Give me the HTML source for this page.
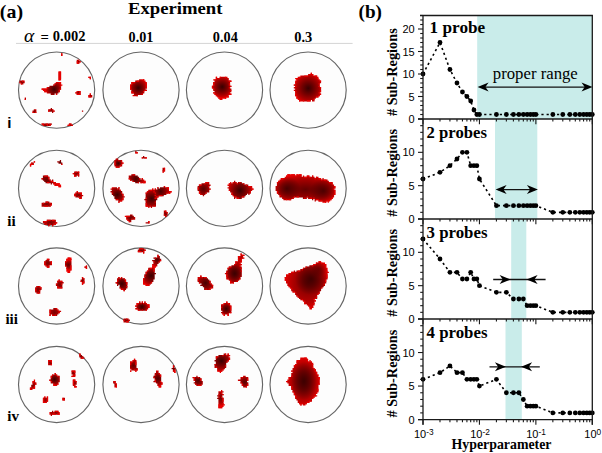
<!DOCTYPE html>
<html><head><meta charset="utf-8"><style>
html,body{margin:0;padding:0;background:#fff;}
svg{display:block;}
</style></head><body>
<svg width="602" height="453" viewBox="0 0 602 453">
<rect width="602" height="453" fill="#fff"/>
<defs><radialGradient id="b1" gradientUnits="userSpaceOnUse" cx="0" cy="0" r="1" gradientTransform="translate(54.20 89.30) scale(8.50 8.50)"><stop offset="0.00" stop-color="#380000"/><stop offset="0.20" stop-color="#540000"/><stop offset="0.45" stop-color="#780000"/><stop offset="0.60" stop-color="#900000"/><stop offset="0.75" stop-color="#a80000"/><stop offset="0.92" stop-color="#cc0000"/><stop offset="1.00" stop-color="#ee0000"/></radialGradient><radialGradient id="b2" gradientUnits="userSpaceOnUse" cx="0" cy="0" r="1" gradientTransform="translate(59.80 76.00) scale(4.00 4.00)"><stop offset="0.00" stop-color="#a80000"/><stop offset="0.20" stop-color="#b30000"/><stop offset="0.45" stop-color="#c00000"/><stop offset="0.60" stop-color="#c80000"/><stop offset="0.75" stop-color="#d30000"/><stop offset="0.92" stop-color="#e60000"/><stop offset="1.00" stop-color="#ee0000"/></radialGradient><radialGradient id="b3" gradientUnits="userSpaceOnUse" cx="0" cy="0" r="1" gradientTransform="translate(61.32 54.71) scale(1.43 1.43)"><stop offset="0.00" stop-color="#780000"/><stop offset="0.20" stop-color="#8a0000"/><stop offset="0.45" stop-color="#a00000"/><stop offset="0.60" stop-color="#ae0000"/><stop offset="0.75" stop-color="#c00000"/><stop offset="0.92" stop-color="#db0000"/><stop offset="1.00" stop-color="#ee0000"/></radialGradient><radialGradient id="b4" gradientUnits="userSpaceOnUse" cx="0" cy="0" r="1" gradientTransform="translate(78.22 61.67) scale(2.62 2.62)"><stop offset="0.00" stop-color="#780000"/><stop offset="0.20" stop-color="#8a0000"/><stop offset="0.45" stop-color="#a00000"/><stop offset="0.60" stop-color="#ae0000"/><stop offset="0.75" stop-color="#c00000"/><stop offset="0.92" stop-color="#db0000"/><stop offset="1.00" stop-color="#ee0000"/></radialGradient><radialGradient id="b5" gradientUnits="userSpaceOnUse" cx="0" cy="0" r="1" gradientTransform="translate(21.96 82.25) scale(3.10 3.10)"><stop offset="0.00" stop-color="#780000"/><stop offset="0.20" stop-color="#8a0000"/><stop offset="0.45" stop-color="#a00000"/><stop offset="0.60" stop-color="#ae0000"/><stop offset="0.75" stop-color="#c00000"/><stop offset="0.92" stop-color="#db0000"/><stop offset="1.00" stop-color="#ee0000"/></radialGradient><radialGradient id="b6" gradientUnits="userSpaceOnUse" cx="0" cy="0" r="1" gradientTransform="translate(90.15 77.97) scale(1.67 1.67)"><stop offset="0.00" stop-color="#780000"/><stop offset="0.20" stop-color="#8a0000"/><stop offset="0.45" stop-color="#a00000"/><stop offset="0.60" stop-color="#ae0000"/><stop offset="0.75" stop-color="#c00000"/><stop offset="0.92" stop-color="#db0000"/><stop offset="1.00" stop-color="#ee0000"/></radialGradient><radialGradient id="b7" gradientUnits="userSpaceOnUse" cx="0" cy="0" r="1" gradientTransform="translate(78.32 92.98) scale(3.22 3.22)"><stop offset="0.00" stop-color="#780000"/><stop offset="0.20" stop-color="#8a0000"/><stop offset="0.45" stop-color="#a00000"/><stop offset="0.60" stop-color="#ae0000"/><stop offset="0.75" stop-color="#c00000"/><stop offset="0.92" stop-color="#db0000"/><stop offset="1.00" stop-color="#ee0000"/></radialGradient><radialGradient id="b8" gradientUnits="userSpaceOnUse" cx="0" cy="0" r="1" gradientTransform="translate(90.15 96.06) scale(2.39 2.39)"><stop offset="0.00" stop-color="#780000"/><stop offset="0.20" stop-color="#8a0000"/><stop offset="0.45" stop-color="#a00000"/><stop offset="0.60" stop-color="#ae0000"/><stop offset="0.75" stop-color="#c00000"/><stop offset="0.92" stop-color="#db0000"/><stop offset="1.00" stop-color="#ee0000"/></radialGradient><radialGradient id="b9" gradientUnits="userSpaceOnUse" cx="0" cy="0" r="1" gradientTransform="translate(25.44 98.65) scale(1.19 1.19)"><stop offset="0.00" stop-color="#780000"/><stop offset="0.20" stop-color="#8a0000"/><stop offset="0.45" stop-color="#a00000"/><stop offset="0.60" stop-color="#ae0000"/><stop offset="0.75" stop-color="#c00000"/><stop offset="0.92" stop-color="#db0000"/><stop offset="1.00" stop-color="#ee0000"/></radialGradient><radialGradient id="b10" gradientUnits="userSpaceOnUse" cx="0" cy="0" r="1" gradientTransform="translate(34.48 111.37) scale(2.62 2.62)"><stop offset="0.00" stop-color="#780000"/><stop offset="0.20" stop-color="#8a0000"/><stop offset="0.45" stop-color="#a00000"/><stop offset="0.60" stop-color="#ae0000"/><stop offset="0.75" stop-color="#c00000"/><stop offset="0.92" stop-color="#db0000"/><stop offset="1.00" stop-color="#ee0000"/></radialGradient><radialGradient id="b11" gradientUnits="userSpaceOnUse" cx="0" cy="0" r="1" gradientTransform="translate(51.28 110.58) scale(4.17 4.17)"><stop offset="0.00" stop-color="#780000"/><stop offset="0.20" stop-color="#8a0000"/><stop offset="0.45" stop-color="#a00000"/><stop offset="0.60" stop-color="#ae0000"/><stop offset="0.75" stop-color="#c00000"/><stop offset="0.92" stop-color="#db0000"/><stop offset="1.00" stop-color="#ee0000"/></radialGradient><radialGradient id="b12" gradientUnits="userSpaceOnUse" cx="0" cy="0" r="1" gradientTransform="translate(83.09 110.68) scale(1.31 1.31)"><stop offset="0.00" stop-color="#780000"/><stop offset="0.20" stop-color="#8a0000"/><stop offset="0.45" stop-color="#a00000"/><stop offset="0.60" stop-color="#ae0000"/><stop offset="0.75" stop-color="#c00000"/><stop offset="0.92" stop-color="#db0000"/><stop offset="1.00" stop-color="#ee0000"/></radialGradient><radialGradient id="b13" gradientUnits="userSpaceOnUse" cx="0" cy="0" r="1" gradientTransform="translate(46.81 124.49) scale(7.16 7.16)"><stop offset="0.00" stop-color="#780000"/><stop offset="0.20" stop-color="#8a0000"/><stop offset="0.45" stop-color="#a00000"/><stop offset="0.60" stop-color="#ae0000"/><stop offset="0.75" stop-color="#c00000"/><stop offset="0.92" stop-color="#db0000"/><stop offset="1.00" stop-color="#ee0000"/></radialGradient><radialGradient id="b14" gradientUnits="userSpaceOnUse" cx="0" cy="0" r="1" gradientTransform="translate(70.17 124.89) scale(2.98 2.98)"><stop offset="0.00" stop-color="#780000"/><stop offset="0.20" stop-color="#8a0000"/><stop offset="0.45" stop-color="#a00000"/><stop offset="0.60" stop-color="#ae0000"/><stop offset="0.75" stop-color="#c00000"/><stop offset="0.92" stop-color="#db0000"/><stop offset="1.00" stop-color="#ee0000"/></radialGradient><radialGradient id="b15" gradientUnits="userSpaceOnUse" cx="0" cy="0" r="1" gradientTransform="translate(138.30 87.90) scale(9.50 9.50)"><stop offset="0.00" stop-color="#380000"/><stop offset="0.20" stop-color="#540000"/><stop offset="0.45" stop-color="#780000"/><stop offset="0.60" stop-color="#900000"/><stop offset="0.75" stop-color="#a80000"/><stop offset="0.92" stop-color="#cc0000"/><stop offset="1.00" stop-color="#ee0000"/></radialGradient><radialGradient id="b16" gradientUnits="userSpaceOnUse" cx="0" cy="0" r="1" gradientTransform="translate(222.20 86.90) scale(11.00 11.00)"><stop offset="0.00" stop-color="#380000"/><stop offset="0.20" stop-color="#540000"/><stop offset="0.45" stop-color="#780000"/><stop offset="0.60" stop-color="#900000"/><stop offset="0.75" stop-color="#a80000"/><stop offset="0.92" stop-color="#cc0000"/><stop offset="1.00" stop-color="#ee0000"/></radialGradient><radialGradient id="b17" gradientUnits="userSpaceOnUse" cx="0" cy="0" r="1" gradientTransform="translate(308.30 88.30) scale(15.00 15.00)"><stop offset="0.00" stop-color="#380000"/><stop offset="0.20" stop-color="#540000"/><stop offset="0.45" stop-color="#780000"/><stop offset="0.60" stop-color="#900000"/><stop offset="0.75" stop-color="#a80000"/><stop offset="0.92" stop-color="#cc0000"/><stop offset="1.00" stop-color="#ee0000"/></radialGradient><radialGradient id="b18" gradientUnits="userSpaceOnUse" cx="0" cy="0" r="1" gradientTransform="translate(76.33 174.10) scale(3.94 3.94)"><stop offset="0.00" stop-color="#780000"/><stop offset="0.20" stop-color="#8a0000"/><stop offset="0.45" stop-color="#a00000"/><stop offset="0.60" stop-color="#ae0000"/><stop offset="0.75" stop-color="#c00000"/><stop offset="0.92" stop-color="#db0000"/><stop offset="1.00" stop-color="#ee0000"/></radialGradient><radialGradient id="b19" gradientUnits="userSpaceOnUse" cx="0" cy="0" r="1" gradientTransform="translate(78.62 194.97) scale(5.25 5.25)"><stop offset="0.00" stop-color="#780000"/><stop offset="0.20" stop-color="#8a0000"/><stop offset="0.45" stop-color="#a00000"/><stop offset="0.60" stop-color="#ae0000"/><stop offset="0.75" stop-color="#c00000"/><stop offset="0.92" stop-color="#db0000"/><stop offset="1.00" stop-color="#ee0000"/></radialGradient><radialGradient id="b20" gradientUnits="userSpaceOnUse" cx="0" cy="0" r="1" gradientTransform="translate(46.61 204.41) scale(7.40 7.40)"><stop offset="0.00" stop-color="#780000"/><stop offset="0.20" stop-color="#8a0000"/><stop offset="0.45" stop-color="#a00000"/><stop offset="0.60" stop-color="#ae0000"/><stop offset="0.75" stop-color="#c00000"/><stop offset="0.92" stop-color="#db0000"/><stop offset="1.00" stop-color="#ee0000"/></radialGradient><radialGradient id="b21" gradientUnits="userSpaceOnUse" cx="0" cy="0" r="1" gradientTransform="translate(49.99 222.70) scale(8.59 8.59)"><stop offset="0.00" stop-color="#780000"/><stop offset="0.20" stop-color="#8a0000"/><stop offset="0.45" stop-color="#a00000"/><stop offset="0.60" stop-color="#ae0000"/><stop offset="0.75" stop-color="#c00000"/><stop offset="0.92" stop-color="#db0000"/><stop offset="1.00" stop-color="#ee0000"/></radialGradient><radialGradient id="b22" gradientUnits="userSpaceOnUse" cx="0" cy="0" r="1" gradientTransform="translate(46.50 179.50) scale(12.00 12.00)"><stop offset="0.00" stop-color="#6a0000"/><stop offset="0.20" stop-color="#7d0000"/><stop offset="0.45" stop-color="#970000"/><stop offset="0.60" stop-color="#a60000"/><stop offset="0.75" stop-color="#bb0000"/><stop offset="0.92" stop-color="#d80000"/><stop offset="1.00" stop-color="#ee0000"/></radialGradient><radialGradient id="b23" gradientUnits="userSpaceOnUse" cx="0" cy="0" r="1" gradientTransform="translate(32.60 163.60) scale(3.00 3.00)"><stop offset="0.00" stop-color="#800000"/><stop offset="0.20" stop-color="#900000"/><stop offset="0.45" stop-color="#a40000"/><stop offset="0.60" stop-color="#b30000"/><stop offset="0.75" stop-color="#c20000"/><stop offset="0.92" stop-color="#dd0000"/><stop offset="1.00" stop-color="#ee0000"/></radialGradient><radialGradient id="b24" gradientUnits="userSpaceOnUse" cx="0" cy="0" r="1" gradientTransform="translate(60.30 162.30) scale(4.00 4.00)"><stop offset="0.00" stop-color="#540000"/><stop offset="0.20" stop-color="#6b0000"/><stop offset="0.45" stop-color="#8a0000"/><stop offset="0.60" stop-color="#9d0000"/><stop offset="0.75" stop-color="#b30000"/><stop offset="0.92" stop-color="#d30000"/><stop offset="1.00" stop-color="#ee0000"/></radialGradient><radialGradient id="b25" gradientUnits="userSpaceOnUse" cx="0" cy="0" r="1" gradientTransform="translate(118.36 163.36) scale(5.00 5.00)"><stop offset="0.00" stop-color="#380000"/><stop offset="0.20" stop-color="#540000"/><stop offset="0.45" stop-color="#780000"/><stop offset="0.60" stop-color="#900000"/><stop offset="0.75" stop-color="#a80000"/><stop offset="0.92" stop-color="#cc0000"/><stop offset="1.00" stop-color="#ee0000"/></radialGradient><radialGradient id="b26" gradientUnits="userSpaceOnUse" cx="0" cy="0" r="1" gradientTransform="translate(135.76 178.77) scale(9.00 9.00)"><stop offset="0.00" stop-color="#460000"/><stop offset="0.20" stop-color="#600000"/><stop offset="0.45" stop-color="#810000"/><stop offset="0.60" stop-color="#960000"/><stop offset="0.75" stop-color="#ad0000"/><stop offset="0.92" stop-color="#cf0000"/><stop offset="1.00" stop-color="#ee0000"/></radialGradient><radialGradient id="b27" gradientUnits="userSpaceOnUse" cx="0" cy="0" r="1" gradientTransform="translate(117.27 194.67) scale(9.00 9.00)"><stop offset="0.00" stop-color="#380000"/><stop offset="0.20" stop-color="#540000"/><stop offset="0.45" stop-color="#780000"/><stop offset="0.60" stop-color="#900000"/><stop offset="0.75" stop-color="#a80000"/><stop offset="0.92" stop-color="#cc0000"/><stop offset="1.00" stop-color="#ee0000"/></radialGradient><radialGradient id="b28" gradientUnits="userSpaceOnUse" cx="0" cy="0" r="1" gradientTransform="translate(151.66 198.65) scale(10.00 10.00)"><stop offset="0.00" stop-color="#380000"/><stop offset="0.20" stop-color="#540000"/><stop offset="0.45" stop-color="#780000"/><stop offset="0.60" stop-color="#900000"/><stop offset="0.75" stop-color="#a80000"/><stop offset="0.92" stop-color="#cc0000"/><stop offset="1.00" stop-color="#ee0000"/></radialGradient><radialGradient id="b29" gradientUnits="userSpaceOnUse" cx="0" cy="0" r="1" gradientTransform="translate(160.61 191.29) scale(9.50 9.50)"><stop offset="0.00" stop-color="#460000"/><stop offset="0.20" stop-color="#600000"/><stop offset="0.45" stop-color="#810000"/><stop offset="0.60" stop-color="#960000"/><stop offset="0.75" stop-color="#ad0000"/><stop offset="0.92" stop-color="#cf0000"/><stop offset="1.00" stop-color="#ee0000"/></radialGradient><radialGradient id="b30" gradientUnits="userSpaceOnUse" cx="0" cy="0" r="1" gradientTransform="translate(130.79 217.93) scale(5.00 5.00)"><stop offset="0.00" stop-color="#630000"/><stop offset="0.20" stop-color="#770000"/><stop offset="0.45" stop-color="#920000"/><stop offset="0.60" stop-color="#a30000"/><stop offset="0.75" stop-color="#b80000"/><stop offset="0.92" stop-color="#d60000"/><stop offset="1.00" stop-color="#ee0000"/></radialGradient><radialGradient id="b31" gradientUnits="userSpaceOnUse" cx="0" cy="0" r="1" gradientTransform="translate(163.59 170.02) scale(2.62 2.62)"><stop offset="0.00" stop-color="#780000"/><stop offset="0.20" stop-color="#8a0000"/><stop offset="0.45" stop-color="#a00000"/><stop offset="0.60" stop-color="#ae0000"/><stop offset="0.75" stop-color="#c00000"/><stop offset="0.92" stop-color="#db0000"/><stop offset="1.00" stop-color="#ee0000"/></radialGradient><radialGradient id="b32" gradientUnits="userSpaceOnUse" cx="0" cy="0" r="1" gradientTransform="translate(144.01 157.69) scale(2.74 2.74)"><stop offset="0.00" stop-color="#780000"/><stop offset="0.20" stop-color="#8a0000"/><stop offset="0.45" stop-color="#a00000"/><stop offset="0.60" stop-color="#ae0000"/><stop offset="0.75" stop-color="#c00000"/><stop offset="0.92" stop-color="#db0000"/><stop offset="1.00" stop-color="#ee0000"/></radialGradient><radialGradient id="b33" gradientUnits="userSpaceOnUse" cx="0" cy="0" r="1" gradientTransform="translate(135.76 152.33) scale(1.67 1.67)"><stop offset="0.00" stop-color="#780000"/><stop offset="0.20" stop-color="#8a0000"/><stop offset="0.45" stop-color="#a00000"/><stop offset="0.60" stop-color="#ae0000"/><stop offset="0.75" stop-color="#c00000"/><stop offset="0.92" stop-color="#db0000"/><stop offset="1.00" stop-color="#ee0000"/></radialGradient><radialGradient id="b34" gradientUnits="userSpaceOnUse" cx="0" cy="0" r="1" gradientTransform="translate(165.58 214.06) scale(4.17 4.17)"><stop offset="0.00" stop-color="#780000"/><stop offset="0.20" stop-color="#8a0000"/><stop offset="0.45" stop-color="#a00000"/><stop offset="0.60" stop-color="#ae0000"/><stop offset="0.75" stop-color="#c00000"/><stop offset="0.92" stop-color="#db0000"/><stop offset="1.00" stop-color="#ee0000"/></radialGradient><radialGradient id="b35" gradientUnits="userSpaceOnUse" cx="0" cy="0" r="1" gradientTransform="translate(147.68 222.70) scale(2.39 2.39)"><stop offset="0.00" stop-color="#780000"/><stop offset="0.20" stop-color="#8a0000"/><stop offset="0.45" stop-color="#a00000"/><stop offset="0.60" stop-color="#ae0000"/><stop offset="0.75" stop-color="#c00000"/><stop offset="0.92" stop-color="#db0000"/><stop offset="1.00" stop-color="#ee0000"/></radialGradient><radialGradient id="b36" gradientUnits="userSpaceOnUse" cx="0" cy="0" r="1" gradientTransform="translate(203.50 189.00) scale(9.50 9.50)"><stop offset="0.00" stop-color="#540000"/><stop offset="0.20" stop-color="#6b0000"/><stop offset="0.45" stop-color="#8a0000"/><stop offset="0.60" stop-color="#9d0000"/><stop offset="0.75" stop-color="#b30000"/><stop offset="0.92" stop-color="#d30000"/><stop offset="1.00" stop-color="#ee0000"/></radialGradient><radialGradient id="b37" gradientUnits="userSpaceOnUse" cx="0" cy="0" r="1" gradientTransform="translate(240.00 190.50) scale(13.00 13.00)"><stop offset="0.00" stop-color="#380000"/><stop offset="0.20" stop-color="#540000"/><stop offset="0.45" stop-color="#780000"/><stop offset="0.60" stop-color="#900000"/><stop offset="0.75" stop-color="#a80000"/><stop offset="0.92" stop-color="#cc0000"/><stop offset="1.00" stop-color="#ee0000"/></radialGradient><radialGradient id="b38" gradientUnits="userSpaceOnUse" cx="0" cy="0" r="1" gradientTransform="translate(305.50 189.50) scale(33.00 16.00)"><stop offset="0.00" stop-color="#630000"/><stop offset="0.20" stop-color="#770000"/><stop offset="0.45" stop-color="#920000"/><stop offset="0.60" stop-color="#a30000"/><stop offset="0.75" stop-color="#b80000"/><stop offset="0.92" stop-color="#d60000"/><stop offset="1.00" stop-color="#ee0000"/></radialGradient><clipPath id="cb38"><path d="M287.30 174.20h7.80v1.30h-7.80zM296.40 174.20h5.20v1.30h-5.20zM286.00 175.50h15.60v1.30h-15.60zM302.90 175.50h1.30v1.30h-1.30zM306.80 175.50h2.60v1.30h-2.60zM312.00 175.50h1.30v1.30h-1.30zM284.70 176.80h29.90v1.30h-29.90zM315.90 176.80h2.60v1.30h-2.60zM280.80 178.10h40.30v1.30h-40.30zM322.40 178.10h1.30v1.30h-1.30zM279.50 179.40h48.10v1.30h-48.10zM278.20 180.70h50.70v1.30h-50.70zM276.90 182.00h55.90v1.30h-55.90zM276.90 183.30h55.90v1.30h-55.90zM276.90 184.60h57.20v1.30h-57.20zM275.60 185.90h59.80v1.30h-59.80zM275.60 187.20h59.80v1.30h-59.80zM275.60 188.50h58.50v1.30h-58.50zM275.60 189.80h59.80v1.30h-59.80zM276.90 191.10h58.50v1.30h-58.50zM276.90 192.40h58.50v1.30h-58.50zM278.20 193.70h57.20v1.30h-57.20zM279.50 195.00h54.60v1.30h-54.60zM279.50 196.30h54.60v1.30h-54.60zM282.10 197.60h11.70v1.30h-11.70zM302.90 197.60h3.90v1.30h-3.90zM308.10 197.60h24.70v1.30h-24.70zM283.40 198.90h7.80v1.30h-7.80zM312.00 198.90h1.30v1.30h-1.30zM314.60 198.90h16.90v1.30h-16.90zM314.60 200.20h1.30v1.30h-1.30zM318.50 200.20h11.70v1.30h-11.70zM322.40 201.50h3.90v1.30h-3.90zM327.60 201.50h1.30v1.30h-1.30z"/></clipPath><radialGradient id="b38s0" gradientUnits="userSpaceOnUse" cx="0" cy="0" r="1" gradientTransform="translate(287.00 188.60) scale(13.50 12.00)"><stop offset="0" stop-color="#380000" stop-opacity="0.85"/><stop offset="0.5" stop-color="#380000" stop-opacity="0.468"/><stop offset="1" stop-color="#380000" stop-opacity="0"/></radialGradient><radialGradient id="b38s1" gradientUnits="userSpaceOnUse" cx="0" cy="0" r="1" gradientTransform="translate(323.30 190.80) scale(13.50 12.00)"><stop offset="0" stop-color="#380000" stop-opacity="0.8"/><stop offset="0.5" stop-color="#380000" stop-opacity="0.440"/><stop offset="1" stop-color="#380000" stop-opacity="0"/></radialGradient><radialGradient id="b39" gradientUnits="userSpaceOnUse" cx="0" cy="0" r="1" gradientTransform="translate(47.80 263.06) scale(5.00 5.00)"><stop offset="0.00" stop-color="#710000"/><stop offset="0.20" stop-color="#830000"/><stop offset="0.45" stop-color="#9b0000"/><stop offset="0.60" stop-color="#aa0000"/><stop offset="0.75" stop-color="#bd0000"/><stop offset="0.92" stop-color="#da0000"/><stop offset="1.00" stop-color="#ee0000"/></radialGradient><radialGradient id="b40" gradientUnits="userSpaceOnUse" cx="0" cy="0" r="1" gradientTransform="translate(68.48 264.85) scale(5.00 5.00)"><stop offset="0.00" stop-color="#5c0000"/><stop offset="0.20" stop-color="#710000"/><stop offset="0.45" stop-color="#8e0000"/><stop offset="0.60" stop-color="#a00000"/><stop offset="0.75" stop-color="#b50000"/><stop offset="0.92" stop-color="#d40000"/><stop offset="1.00" stop-color="#ee0000"/></radialGradient><radialGradient id="b41" gradientUnits="userSpaceOnUse" cx="0" cy="0" r="1" gradientTransform="translate(85.97 267.44) scale(1.91 1.91)"><stop offset="0.00" stop-color="#780000"/><stop offset="0.20" stop-color="#8a0000"/><stop offset="0.45" stop-color="#a00000"/><stop offset="0.60" stop-color="#ae0000"/><stop offset="0.75" stop-color="#c00000"/><stop offset="0.92" stop-color="#db0000"/><stop offset="1.00" stop-color="#ee0000"/></radialGradient><radialGradient id="b42" gradientUnits="userSpaceOnUse" cx="0" cy="0" r="1" gradientTransform="translate(82.79 280.76) scale(4.77 4.77)"><stop offset="0.00" stop-color="#780000"/><stop offset="0.20" stop-color="#8a0000"/><stop offset="0.45" stop-color="#a00000"/><stop offset="0.60" stop-color="#ae0000"/><stop offset="0.75" stop-color="#c00000"/><stop offset="0.92" stop-color="#db0000"/><stop offset="1.00" stop-color="#ee0000"/></radialGradient><radialGradient id="b43" gradientUnits="userSpaceOnUse" cx="0" cy="0" r="1" gradientTransform="translate(59.63 284.73) scale(5.96 5.96)"><stop offset="0.00" stop-color="#780000"/><stop offset="0.20" stop-color="#8a0000"/><stop offset="0.45" stop-color="#a00000"/><stop offset="0.60" stop-color="#ae0000"/><stop offset="0.75" stop-color="#c00000"/><stop offset="0.92" stop-color="#db0000"/><stop offset="1.00" stop-color="#ee0000"/></radialGradient><radialGradient id="b44" gradientUnits="userSpaceOnUse" cx="0" cy="0" r="1" gradientTransform="translate(38.06 289.50) scale(5.01 5.01)"><stop offset="0.00" stop-color="#780000"/><stop offset="0.20" stop-color="#8a0000"/><stop offset="0.45" stop-color="#a00000"/><stop offset="0.60" stop-color="#ae0000"/><stop offset="0.75" stop-color="#c00000"/><stop offset="0.92" stop-color="#db0000"/><stop offset="1.00" stop-color="#ee0000"/></radialGradient><radialGradient id="b45" gradientUnits="userSpaceOnUse" cx="0" cy="0" r="1" gradientTransform="translate(54.46 312.27) scale(7.51 7.51)"><stop offset="0.00" stop-color="#780000"/><stop offset="0.20" stop-color="#8a0000"/><stop offset="0.45" stop-color="#a00000"/><stop offset="0.60" stop-color="#ae0000"/><stop offset="0.75" stop-color="#c00000"/><stop offset="0.92" stop-color="#db0000"/><stop offset="1.00" stop-color="#ee0000"/></radialGradient><radialGradient id="b46" gradientUnits="userSpaceOnUse" cx="0" cy="0" r="1" gradientTransform="translate(141.42 250.44) scale(5.13 5.13)"><stop offset="0.00" stop-color="#780000"/><stop offset="0.20" stop-color="#8a0000"/><stop offset="0.45" stop-color="#a00000"/><stop offset="0.60" stop-color="#ae0000"/><stop offset="0.75" stop-color="#c00000"/><stop offset="0.92" stop-color="#db0000"/><stop offset="1.00" stop-color="#ee0000"/></radialGradient><radialGradient id="b47" gradientUnits="userSpaceOnUse" cx="0" cy="0" r="1" gradientTransform="translate(151.06 275.79) scale(10.00 10.00)"><stop offset="0.00" stop-color="#380000"/><stop offset="0.20" stop-color="#540000"/><stop offset="0.45" stop-color="#780000"/><stop offset="0.60" stop-color="#900000"/><stop offset="0.75" stop-color="#a80000"/><stop offset="0.92" stop-color="#cc0000"/><stop offset="1.00" stop-color="#ee0000"/></radialGradient><radialGradient id="b48" gradientUnits="userSpaceOnUse" cx="0" cy="0" r="1" gradientTransform="translate(157.03 259.88) scale(7.00 7.00)"><stop offset="0.00" stop-color="#540000"/><stop offset="0.20" stop-color="#6b0000"/><stop offset="0.45" stop-color="#8a0000"/><stop offset="0.60" stop-color="#9d0000"/><stop offset="0.75" stop-color="#b30000"/><stop offset="0.92" stop-color="#d30000"/><stop offset="1.00" stop-color="#ee0000"/></radialGradient><radialGradient id="b49" gradientUnits="userSpaceOnUse" cx="0" cy="0" r="1" gradientTransform="translate(121.84 283.74) scale(9.00 9.00)"><stop offset="0.00" stop-color="#380000"/><stop offset="0.20" stop-color="#540000"/><stop offset="0.45" stop-color="#780000"/><stop offset="0.60" stop-color="#900000"/><stop offset="0.75" stop-color="#a80000"/><stop offset="0.92" stop-color="#cc0000"/><stop offset="1.00" stop-color="#ee0000"/></radialGradient><radialGradient id="b50" gradientUnits="userSpaceOnUse" cx="0" cy="0" r="1" gradientTransform="translate(141.92 306.80) scale(7.00 7.00)"><stop offset="0.00" stop-color="#380000"/><stop offset="0.20" stop-color="#540000"/><stop offset="0.45" stop-color="#780000"/><stop offset="0.60" stop-color="#900000"/><stop offset="0.75" stop-color="#a80000"/><stop offset="0.92" stop-color="#cc0000"/><stop offset="1.00" stop-color="#ee0000"/></radialGradient><radialGradient id="b51" gradientUnits="userSpaceOnUse" cx="0" cy="0" r="1" gradientTransform="translate(126.31 320.22) scale(4.17 4.17)"><stop offset="0.00" stop-color="#780000"/><stop offset="0.20" stop-color="#8a0000"/><stop offset="0.45" stop-color="#a00000"/><stop offset="0.60" stop-color="#ae0000"/><stop offset="0.75" stop-color="#c00000"/><stop offset="0.92" stop-color="#db0000"/><stop offset="1.00" stop-color="#ee0000"/></radialGradient><radialGradient id="b52" gradientUnits="userSpaceOnUse" cx="0" cy="0" r="1" gradientTransform="translate(234.50 272.00) scale(11.00 14.00)"><stop offset="0.00" stop-color="#6a0000"/><stop offset="0.20" stop-color="#7d0000"/><stop offset="0.45" stop-color="#970000"/><stop offset="0.60" stop-color="#a60000"/><stop offset="0.75" stop-color="#bb0000"/><stop offset="0.92" stop-color="#d80000"/><stop offset="1.00" stop-color="#ee0000"/></radialGradient><clipPath id="cb52"><path d="M240.50 253.50h1.30v1.30h-1.30zM240.50 254.80h3.90v1.30h-3.90zM237.90 256.10h5.20v1.30h-5.20zM237.90 257.40h6.50v1.30h-6.50zM237.90 258.70h3.90v1.30h-3.90zM237.90 260.00h3.90v1.30h-3.90zM235.30 261.30h6.50v1.30h-6.50zM235.30 262.60h5.20v1.30h-5.20zM234.00 263.90h7.80v1.30h-7.80zM231.40 265.20h9.10v1.30h-9.10zM228.80 266.50h13.00v1.30h-13.00zM227.50 267.80h14.30v1.30h-14.30zM227.50 269.10h14.30v1.30h-14.30zM226.20 270.40h15.60v1.30h-15.60zM226.20 271.70h15.60v1.30h-15.60zM224.90 273.00h16.90v1.30h-16.90zM226.20 274.30h15.60v1.30h-15.60zM226.20 275.60h15.60v1.30h-15.60zM226.20 276.90h14.30v1.30h-14.30zM226.20 278.20h14.30v1.30h-14.30zM228.80 279.50h10.40v1.30h-10.40zM230.10 280.80h7.80v1.30h-7.80zM230.10 282.10h3.90v1.30h-3.90z"/></clipPath><radialGradient id="b52s0" gradientUnits="userSpaceOnUse" cx="0" cy="0" r="1" gradientTransform="translate(234.70 273.80) scale(8.00 9.00)"><stop offset="0" stop-color="#380000" stop-opacity="0.9"/><stop offset="0.5" stop-color="#380000" stop-opacity="0.495"/><stop offset="1" stop-color="#380000" stop-opacity="0"/></radialGradient><radialGradient id="b52s1" gradientUnits="userSpaceOnUse" cx="0" cy="0" r="1" gradientTransform="translate(241.00 258.00) scale(4.00 6.00)"><stop offset="0" stop-color="#380000" stop-opacity="0.4"/><stop offset="0.5" stop-color="#380000" stop-opacity="0.220"/><stop offset="1" stop-color="#380000" stop-opacity="0"/></radialGradient><radialGradient id="b53" gradientUnits="userSpaceOnUse" cx="0" cy="0" r="1" gradientTransform="translate(205.50 283.00) scale(10.00 10.00)"><stop offset="0.00" stop-color="#460000"/><stop offset="0.20" stop-color="#600000"/><stop offset="0.45" stop-color="#810000"/><stop offset="0.60" stop-color="#960000"/><stop offset="0.75" stop-color="#ad0000"/><stop offset="0.92" stop-color="#cf0000"/><stop offset="1.00" stop-color="#ee0000"/></radialGradient><radialGradient id="b54" gradientUnits="userSpaceOnUse" cx="0" cy="0" r="1" gradientTransform="translate(226.22 308.89) scale(7.00 7.00)"><stop offset="0.00" stop-color="#380000"/><stop offset="0.20" stop-color="#540000"/><stop offset="0.45" stop-color="#780000"/><stop offset="0.60" stop-color="#900000"/><stop offset="0.75" stop-color="#a80000"/><stop offset="0.92" stop-color="#cc0000"/><stop offset="1.00" stop-color="#ee0000"/></radialGradient><radialGradient id="b55" gradientUnits="userSpaceOnUse" cx="0" cy="0" r="1" gradientTransform="translate(308.00 283.00) scale(24.00 27.00)"><stop offset="0.00" stop-color="#710000"/><stop offset="0.20" stop-color="#830000"/><stop offset="0.45" stop-color="#9b0000"/><stop offset="0.60" stop-color="#aa0000"/><stop offset="0.75" stop-color="#bd0000"/><stop offset="0.92" stop-color="#da0000"/><stop offset="1.00" stop-color="#ee0000"/></radialGradient><clipPath id="cb55"><path d="M318.50 261.30h2.60v1.30h-2.60zM315.90 262.60h9.10v1.30h-9.10zM313.30 263.90h13.00v1.30h-13.00zM309.40 265.20h16.90v1.30h-16.90zM305.50 266.50h20.80v1.30h-20.80zM302.90 267.80h24.70v1.30h-24.70zM300.30 269.10h27.30v1.30h-27.30zM293.80 270.40h1.30v1.30h-1.30zM296.40 270.40h31.20v1.30h-31.20zM291.20 271.70h37.70v1.30h-37.70zM288.60 273.00h39.00v1.30h-39.00zM286.00 274.30h41.60v1.30h-41.60zM286.00 275.60h41.60v1.30h-41.60zM284.70 276.90h42.90v1.30h-42.90zM284.70 278.20h42.90v1.30h-42.90zM284.70 279.50h41.60v1.30h-41.60zM286.00 280.80h40.30v1.30h-40.30zM286.00 282.10h40.30v1.30h-40.30zM287.30 283.40h37.70v1.30h-37.70zM287.30 284.70h37.70v1.30h-37.70zM288.60 286.00h35.10v1.30h-35.10zM289.90 287.30h32.50v1.30h-32.50zM291.20 288.60h29.90v1.30h-29.90zM291.20 289.90h29.90v1.30h-29.90zM292.50 291.20h27.30v1.30h-27.30zM295.10 292.50h24.70v1.30h-24.70zM295.10 293.80h23.40v1.30h-23.40zM296.40 295.10h20.80v1.30h-20.80zM297.70 296.40h19.50v1.30h-19.50zM299.00 297.70h18.20v1.30h-18.20zM300.30 299.00h14.30v1.30h-14.30zM302.90 300.30h13.00v1.30h-13.00zM304.20 301.60h10.40v1.30h-10.40zM304.20 302.90h10.40v1.30h-10.40zM306.80 304.20h7.80v1.30h-7.80zM308.10 305.50h5.20v1.30h-5.20zM309.40 306.80h3.90v1.30h-3.90zM309.40 308.10h2.60v1.30h-2.60z"/></clipPath><radialGradient id="b55s0" gradientUnits="userSpaceOnUse" cx="0" cy="0" r="1" gradientTransform="translate(311.00 279.00) scale(16.00 16.00)"><stop offset="0" stop-color="#380000" stop-opacity="0.9"/><stop offset="0.5" stop-color="#380000" stop-opacity="0.495"/><stop offset="1" stop-color="#380000" stop-opacity="0"/></radialGradient><radialGradient id="b55s1" gradientUnits="userSpaceOnUse" cx="0" cy="0" r="1" gradientTransform="translate(319.00 269.00) scale(8.00 8.00)"><stop offset="0" stop-color="#380000" stop-opacity="0.5"/><stop offset="0.5" stop-color="#380000" stop-opacity="0.275"/><stop offset="1" stop-color="#380000" stop-opacity="0"/></radialGradient><radialGradient id="b56" gradientUnits="userSpaceOnUse" cx="0" cy="0" r="1" gradientTransform="translate(50.00 362.50) scale(4.00 4.00)"><stop offset="0.00" stop-color="#800000"/><stop offset="0.20" stop-color="#900000"/><stop offset="0.45" stop-color="#a40000"/><stop offset="0.60" stop-color="#b30000"/><stop offset="0.75" stop-color="#c20000"/><stop offset="0.92" stop-color="#dd0000"/><stop offset="1.00" stop-color="#ee0000"/></radialGradient><radialGradient id="b57" gradientUnits="userSpaceOnUse" cx="0" cy="0" r="1" gradientTransform="translate(81.30 356.50) scale(4.00 4.00)"><stop offset="0.00" stop-color="#630000"/><stop offset="0.20" stop-color="#770000"/><stop offset="0.45" stop-color="#920000"/><stop offset="0.60" stop-color="#a30000"/><stop offset="0.75" stop-color="#b80000"/><stop offset="0.92" stop-color="#d60000"/><stop offset="1.00" stop-color="#ee0000"/></radialGradient><radialGradient id="b58" gradientUnits="userSpaceOnUse" cx="0" cy="0" r="1" gradientTransform="translate(54.60 379.30) scale(6.50 6.50)"><stop offset="0.00" stop-color="#380000"/><stop offset="0.20" stop-color="#540000"/><stop offset="0.45" stop-color="#780000"/><stop offset="0.60" stop-color="#900000"/><stop offset="0.75" stop-color="#a80000"/><stop offset="0.92" stop-color="#cc0000"/><stop offset="1.00" stop-color="#ee0000"/></radialGradient><radialGradient id="b59" gradientUnits="userSpaceOnUse" cx="0" cy="0" r="1" gradientTransform="translate(73.30 373.00) scale(4.00 4.00)"><stop offset="0.00" stop-color="#800000"/><stop offset="0.20" stop-color="#900000"/><stop offset="0.45" stop-color="#a40000"/><stop offset="0.60" stop-color="#b30000"/><stop offset="0.75" stop-color="#c20000"/><stop offset="0.92" stop-color="#dd0000"/><stop offset="1.00" stop-color="#ee0000"/></radialGradient><radialGradient id="b60" gradientUnits="userSpaceOnUse" cx="0" cy="0" r="1" gradientTransform="translate(74.50 383.00) scale(4.00 4.00)"><stop offset="0.00" stop-color="#800000"/><stop offset="0.20" stop-color="#900000"/><stop offset="0.45" stop-color="#a40000"/><stop offset="0.60" stop-color="#b30000"/><stop offset="0.75" stop-color="#c20000"/><stop offset="0.92" stop-color="#dd0000"/><stop offset="1.00" stop-color="#ee0000"/></radialGradient><radialGradient id="b61" gradientUnits="userSpaceOnUse" cx="0" cy="0" r="1" gradientTransform="translate(33.00 385.50) scale(5.00 5.00)"><stop offset="0.00" stop-color="#800000"/><stop offset="0.20" stop-color="#900000"/><stop offset="0.45" stop-color="#a40000"/><stop offset="0.60" stop-color="#b30000"/><stop offset="0.75" stop-color="#c20000"/><stop offset="0.92" stop-color="#dd0000"/><stop offset="1.00" stop-color="#ee0000"/></radialGradient><radialGradient id="b62" gradientUnits="userSpaceOnUse" cx="0" cy="0" r="1" gradientTransform="translate(45.40 399.80) scale(4.00 4.00)"><stop offset="0.00" stop-color="#900000"/><stop offset="0.20" stop-color="#9d0000"/><stop offset="0.45" stop-color="#ae0000"/><stop offset="0.60" stop-color="#bb0000"/><stop offset="0.75" stop-color="#c80000"/><stop offset="0.92" stop-color="#e00000"/><stop offset="1.00" stop-color="#ee0000"/></radialGradient><radialGradient id="b63" gradientUnits="userSpaceOnUse" cx="0" cy="0" r="1" gradientTransform="translate(63.70 399.00) scale(3.00 3.00)"><stop offset="0.00" stop-color="#a00000"/><stop offset="0.20" stop-color="#aa0000"/><stop offset="0.45" stop-color="#ba0000"/><stop offset="0.60" stop-color="#c40000"/><stop offset="0.75" stop-color="#ce0000"/><stop offset="0.92" stop-color="#e40000"/><stop offset="1.00" stop-color="#ee0000"/></radialGradient><radialGradient id="b64" gradientUnits="userSpaceOnUse" cx="0" cy="0" r="1" gradientTransform="translate(54.50 413.30) scale(5.00 5.00)"><stop offset="0.00" stop-color="#6a0000"/><stop offset="0.20" stop-color="#7d0000"/><stop offset="0.45" stop-color="#970000"/><stop offset="0.60" stop-color="#a60000"/><stop offset="0.75" stop-color="#bb0000"/><stop offset="0.92" stop-color="#d80000"/><stop offset="1.00" stop-color="#ee0000"/></radialGradient><radialGradient id="b65" gradientUnits="userSpaceOnUse" cx="0" cy="0" r="1" gradientTransform="translate(133.50 365.50) scale(7.00 7.00)"><stop offset="0.00" stop-color="#630000"/><stop offset="0.20" stop-color="#770000"/><stop offset="0.45" stop-color="#920000"/><stop offset="0.60" stop-color="#a30000"/><stop offset="0.75" stop-color="#b80000"/><stop offset="0.92" stop-color="#d60000"/><stop offset="1.00" stop-color="#ee0000"/></radialGradient><radialGradient id="b66" gradientUnits="userSpaceOnUse" cx="0" cy="0" r="1" gradientTransform="translate(158.00 378.50) scale(8.00 8.00)"><stop offset="0.00" stop-color="#4d0000"/><stop offset="0.20" stop-color="#660000"/><stop offset="0.45" stop-color="#850000"/><stop offset="0.60" stop-color="#9a0000"/><stop offset="0.75" stop-color="#b00000"/><stop offset="0.92" stop-color="#d10000"/><stop offset="1.00" stop-color="#ee0000"/></radialGradient><radialGradient id="b67" gradientUnits="userSpaceOnUse" cx="0" cy="0" r="1" gradientTransform="translate(115.00 383.70) scale(4.00 4.00)"><stop offset="0.00" stop-color="#900000"/><stop offset="0.20" stop-color="#9d0000"/><stop offset="0.45" stop-color="#ae0000"/><stop offset="0.60" stop-color="#bb0000"/><stop offset="0.75" stop-color="#c80000"/><stop offset="0.92" stop-color="#e00000"/><stop offset="1.00" stop-color="#ee0000"/></radialGradient><radialGradient id="b68" gradientUnits="userSpaceOnUse" cx="0" cy="0" r="1" gradientTransform="translate(173.50 368.50) scale(4.00 4.00)"><stop offset="0.00" stop-color="#630000"/><stop offset="0.20" stop-color="#770000"/><stop offset="0.45" stop-color="#920000"/><stop offset="0.60" stop-color="#a30000"/><stop offset="0.75" stop-color="#b80000"/><stop offset="0.92" stop-color="#d60000"/><stop offset="1.00" stop-color="#ee0000"/></radialGradient><radialGradient id="b69" gradientUnits="userSpaceOnUse" cx="0" cy="0" r="1" gradientTransform="translate(221.50 360.90) scale(11.00 11.00)"><stop offset="0.00" stop-color="#380000"/><stop offset="0.20" stop-color="#540000"/><stop offset="0.45" stop-color="#780000"/><stop offset="0.60" stop-color="#900000"/><stop offset="0.75" stop-color="#a80000"/><stop offset="0.92" stop-color="#cc0000"/><stop offset="1.00" stop-color="#ee0000"/></radialGradient><radialGradient id="b70" gradientUnits="userSpaceOnUse" cx="0" cy="0" r="1" gradientTransform="translate(198.20 380.80) scale(7.00 7.00)"><stop offset="0.00" stop-color="#4d0000"/><stop offset="0.20" stop-color="#660000"/><stop offset="0.45" stop-color="#850000"/><stop offset="0.60" stop-color="#9a0000"/><stop offset="0.75" stop-color="#b00000"/><stop offset="0.92" stop-color="#d10000"/><stop offset="1.00" stop-color="#ee0000"/></radialGradient><radialGradient id="b71" gradientUnits="userSpaceOnUse" cx="0" cy="0" r="1" gradientTransform="translate(244.70 382.10) scale(7.00 7.00)"><stop offset="0.00" stop-color="#540000"/><stop offset="0.20" stop-color="#6b0000"/><stop offset="0.45" stop-color="#8a0000"/><stop offset="0.60" stop-color="#9d0000"/><stop offset="0.75" stop-color="#b30000"/><stop offset="0.92" stop-color="#d30000"/><stop offset="1.00" stop-color="#ee0000"/></radialGradient><radialGradient id="b72" gradientUnits="userSpaceOnUse" cx="0" cy="0" r="1" gradientTransform="translate(220.80 397.90) scale(8.00 8.00)"><stop offset="0.00" stop-color="#710000"/><stop offset="0.20" stop-color="#830000"/><stop offset="0.45" stop-color="#9b0000"/><stop offset="0.60" stop-color="#aa0000"/><stop offset="0.75" stop-color="#bd0000"/><stop offset="0.92" stop-color="#da0000"/><stop offset="1.00" stop-color="#ee0000"/></radialGradient><radialGradient id="b73" gradientUnits="userSpaceOnUse" cx="0" cy="0" r="1" gradientTransform="translate(303.50 382.00) scale(18.00 26.00)"><stop offset="0.00" stop-color="#710000"/><stop offset="0.20" stop-color="#830000"/><stop offset="0.45" stop-color="#9b0000"/><stop offset="0.60" stop-color="#aa0000"/><stop offset="0.75" stop-color="#bd0000"/><stop offset="0.92" stop-color="#da0000"/><stop offset="1.00" stop-color="#ee0000"/></radialGradient><clipPath id="cb73"><path d="M300.30 357.50h6.50v1.30h-6.50zM300.30 358.80h7.80v1.30h-7.80zM296.40 360.10h11.70v1.30h-11.70zM309.40 360.10h1.30v1.30h-1.30zM296.40 361.40h15.60v1.30h-15.60zM296.40 362.70h16.90v1.30h-16.90zM295.10 364.00h18.20v1.30h-18.20zM293.80 365.30h19.50v1.30h-19.50zM293.80 366.60h19.50v1.30h-19.50zM292.50 367.90h22.10v1.30h-22.10zM292.50 369.20h23.40v1.30h-23.40zM291.20 370.50h24.70v1.30h-24.70zM292.50 371.80h24.70v1.30h-24.70zM291.20 373.10h26.00v1.30h-26.00zM291.20 374.40h27.30v1.30h-27.30zM291.20 375.70h27.30v1.30h-27.30zM288.60 377.00h31.20v1.30h-31.20zM288.60 378.30h31.20v1.30h-31.20zM287.30 379.60h32.50v1.30h-32.50zM286.00 380.90h33.80v1.30h-33.80zM287.30 382.20h32.50v1.30h-32.50zM288.60 383.50h31.20v1.30h-31.20zM288.60 384.80h29.90v1.30h-29.90zM291.20 386.10h27.30v1.30h-27.30zM291.20 387.40h27.30v1.30h-27.30zM291.20 388.70h27.30v1.30h-27.30zM292.50 390.00h26.00v1.30h-26.00zM292.50 391.30h26.00v1.30h-26.00zM293.80 392.60h23.40v1.30h-23.40zM293.80 393.90h22.10v1.30h-22.10zM295.10 395.20h22.10v1.30h-22.10zM295.10 396.50h19.50v1.30h-19.50zM295.10 397.80h18.20v1.30h-18.20zM296.40 399.10h15.60v1.30h-15.60zM297.70 400.40h14.30v1.30h-14.30zM297.70 401.70h11.70v1.30h-11.70zM299.00 403.00h7.80v1.30h-7.80zM300.30 404.30h1.30v1.30h-1.30zM302.90 404.30h2.60v1.30h-2.60z"/></clipPath><radialGradient id="b73s0" gradientUnits="userSpaceOnUse" cx="0" cy="0" r="1" gradientTransform="translate(304.00 381.00) scale(13.00 19.00)"><stop offset="0" stop-color="#380000" stop-opacity="0.9"/><stop offset="0.5" stop-color="#380000" stop-opacity="0.495"/><stop offset="1" stop-color="#380000" stop-opacity="0"/></radialGradient></defs>
<text x="-0.2" y="18.2" font-family="Liberation Serif" font-size="17.8" font-weight="bold" textLength="23.2" lengthAdjust="spacingAndGlyphs" >(a)</text>
<text x="128.0" y="14" font-family="Liberation Serif" font-size="17.3" font-weight="bold" textLength="94.5" lengthAdjust="spacingAndGlyphs" >Experiment</text>
<text x="24.1" y="41.5" font-family="Liberation Serif" font-size="19.5" font-style="italic" >&#945;</text>
<text x="40.4" y="41.8" font-family="Liberation Serif" font-size="14.6" font-weight="bold" textLength="8.4" lengthAdjust="spacingAndGlyphs" >=</text>
<text x="52.8" y="41.4" font-family="Liberation Serif" font-size="14.2" font-weight="bold" textLength="32.6" lengthAdjust="spacingAndGlyphs" >0.002</text>
<text x="128.6" y="41.5" font-family="Liberation Serif" font-size="14.2" font-weight="bold" textLength="24.8" lengthAdjust="spacingAndGlyphs" >0.01</text>
<text x="212.8" y="41.5" font-family="Liberation Serif" font-size="14.2" font-weight="bold" textLength="25" lengthAdjust="spacingAndGlyphs" >0.04</text>
<text x="294.2" y="41.5" font-family="Liberation Serif" font-size="14.2" font-weight="bold" textLength="18" lengthAdjust="spacingAndGlyphs" >0.3</text>
<line x1="16" y1="43.4" x2="352.6" y2="43.4" stroke="#d4d4d4" stroke-width="1"/>
<circle cx="56.6" cy="90.1" r="38.1" fill="#fdfdfd" stroke="#666" stroke-width="1.15"/>
<circle cx="141.0" cy="90.1" r="38.1" fill="#fdfdfd" stroke="#666" stroke-width="1.15"/>
<circle cx="224.5" cy="90.1" r="38.1" fill="#fdfdfd" stroke="#666" stroke-width="1.15"/>
<circle cx="308.1" cy="90.1" r="38.1" fill="#fdfdfd" stroke="#666" stroke-width="1.15"/>
<circle cx="56.6" cy="188.4" r="38.1" fill="#fdfdfd" stroke="#666" stroke-width="1.15"/>
<circle cx="141.0" cy="188.4" r="38.1" fill="#fdfdfd" stroke="#666" stroke-width="1.15"/>
<circle cx="224.5" cy="188.4" r="38.1" fill="#fdfdfd" stroke="#666" stroke-width="1.15"/>
<circle cx="308.1" cy="188.4" r="38.1" fill="#fdfdfd" stroke="#666" stroke-width="1.15"/>
<circle cx="56.6" cy="286.0" r="38.1" fill="#fdfdfd" stroke="#666" stroke-width="1.15"/>
<circle cx="141.0" cy="286.0" r="38.1" fill="#fdfdfd" stroke="#666" stroke-width="1.15"/>
<circle cx="224.5" cy="286.0" r="38.1" fill="#fdfdfd" stroke="#666" stroke-width="1.15"/>
<circle cx="308.1" cy="286.0" r="38.1" fill="#fdfdfd" stroke="#666" stroke-width="1.15"/>
<circle cx="56.6" cy="384.5" r="38.1" fill="#fdfdfd" stroke="#666" stroke-width="1.15"/>
<circle cx="141.0" cy="384.5" r="38.1" fill="#fdfdfd" stroke="#666" stroke-width="1.15"/>
<circle cx="224.5" cy="384.5" r="38.1" fill="#fdfdfd" stroke="#666" stroke-width="1.15"/>
<circle cx="308.1" cy="384.5" r="38.1" fill="#fdfdfd" stroke="#666" stroke-width="1.15"/>
<text x="7.2" y="127.8" font-family="Liberation Sans" font-weight="bold" font-size="15">i</text>
<text x="7.3" y="226" font-family="Liberation Serif" font-weight="bold" font-size="15">ii</text>
<text x="5.4" y="324.3" font-family="Liberation Serif" font-weight="bold" font-size="15">iii</text>
<text x="7.3" y="420.7" font-family="Liberation Serif" font-weight="bold" font-size="15">iv</text>
<path d="M55.90 81.90h5.20v1.30h-5.20zM54.60 83.20h6.50v1.30h-6.50zM53.30 84.50h9.10v1.30h-9.10zM49.40 85.80h11.70v1.30h-11.70zM46.80 87.10h14.30v1.30h-14.30zM41.60 88.40h19.50v1.30h-19.50zM42.90 89.70h16.90v1.30h-16.90zM44.20 91.00h15.60v1.30h-15.60zM46.80 92.30h11.70v1.30h-11.70zM50.70 93.60h3.90v1.30h-3.90zM55.90 93.60h1.30v1.30h-1.30z" fill="url(#b1)"/>
<path d="M55.90 81.90h1.30v1.30h-1.30zM59.80 81.90h1.30v1.30h-1.30zM54.60 83.20h1.30v1.30h-1.30zM59.80 83.20h1.30v1.30h-1.30zM53.30 84.50h1.30v1.30h-1.30zM59.80 85.80h1.30v1.30h-1.30zM46.80 87.10h1.30v1.30h-1.30zM41.60 88.40h5.20v1.30h-5.20zM59.80 88.40h1.30v1.30h-1.30zM58.50 89.70h1.30v1.30h-1.30zM44.20 91.00h2.60v1.30h-2.60zM58.50 91.00h1.30v1.30h-1.30zM55.90 93.60h1.30v1.30h-1.30z" fill="#e60000"/>
<path d="M58.50 71.50h2.60v1.30h-2.60zM58.50 72.80h2.60v1.30h-2.60zM58.50 74.10h2.60v1.30h-2.60zM58.50 75.40h2.60v1.30h-2.60zM58.50 76.70h2.60v1.30h-2.60zM58.50 78.00h2.60v1.30h-2.60zM58.50 79.30h2.60v1.30h-2.60z" fill="url(#b2)"/>
<path d="M58.50 71.50h2.60v1.30h-2.60zM58.50 72.80h2.60v1.30h-2.60zM58.50 74.10h2.60v1.30h-2.60zM58.50 75.40h2.60v1.30h-2.60zM58.50 76.70h2.60v1.30h-2.60zM58.50 78.00h2.60v1.30h-2.60zM58.50 79.30h1.30v1.30h-1.30z" fill="#e60000"/>
<path d="M61.10 53.30h1.30v1.30h-1.30zM61.10 54.60h1.30v1.30h-1.30z" fill="url(#b3)"/>
<path d="M61.10 53.30h1.30v1.30h-1.30zM61.10 54.60h1.30v1.30h-1.30z" fill="#e60000"/>
<path d="M76.70 59.80h2.60v1.30h-2.60zM76.70 61.10h3.90v1.30h-3.90zM76.70 62.40h2.60v1.30h-2.60z" fill="url(#b4)"/>
<path d="M78.00 59.80h1.30v1.30h-1.30zM76.70 61.10h1.30v1.30h-1.30zM79.30 61.10h1.30v1.30h-1.30zM76.70 62.40h2.60v1.30h-2.60z" fill="#e60000"/>
<path d="M19.50 80.60h5.20v1.30h-5.20zM19.50 81.90h5.20v1.30h-5.20zM20.80 83.20h2.60v1.30h-2.60z" fill="url(#b5)"/>
<path d="M22.10 80.60h1.30v1.30h-1.30zM19.50 81.90h1.30v1.30h-1.30zM20.80 83.20h1.30v1.30h-1.30z" fill="#e60000"/>
<path d="M88.40 76.70h2.60v1.30h-2.60zM89.70 78.00h1.30v1.30h-1.30z" fill="url(#b6)"/>
<path d="M88.40 76.70h2.60v1.30h-2.60zM89.70 78.00h1.30v1.30h-1.30z" fill="#e60000"/>
<path d="M76.70 91.00h3.90v1.30h-3.90zM75.40 92.30h5.20v1.30h-5.20zM76.70 93.60h3.90v1.30h-3.90z" fill="url(#b7)"/>
<path d="M76.70 91.00h1.30v1.30h-1.30zM79.30 91.00h1.30v1.30h-1.30zM75.40 92.30h1.30v1.30h-1.30zM79.30 92.30h1.30v1.30h-1.30zM76.70 93.60h3.90v1.30h-3.90z" fill="#e60000"/>
<path d="M89.70 93.60h1.30v1.30h-1.30zM88.40 94.90h3.90v1.30h-3.90zM88.40 96.20h3.90v1.30h-3.90z" fill="url(#b8)"/>
<path d="M89.70 93.60h1.30v1.30h-1.30zM88.40 94.90h1.30v1.30h-1.30zM88.40 96.20h2.60v1.30h-2.60z" fill="#e60000"/>
<path d="M24.70 97.50h1.30v1.30h-1.30zM24.70 98.80h1.30v1.30h-1.30z" fill="url(#b9)"/>
<path d="M24.70 98.80h1.30v1.30h-1.30z" fill="#e60000"/>
<path d="M33.80 109.20h2.60v1.30h-2.60zM32.50 110.50h3.90v1.30h-3.90zM32.50 111.80h3.90v1.30h-3.90z" fill="url(#b10)"/>
<path d="M32.50 111.80h1.30v1.30h-1.30zM35.10 111.80h1.30v1.30h-1.30z" fill="#e60000"/>
<path d="M50.70 107.90h1.30v1.30h-1.30zM48.10 109.20h5.20v1.30h-5.20zM48.10 110.50h6.50v1.30h-6.50zM52.00 111.80h1.30v1.30h-1.30z" fill="url(#b11)"/>
<path d="M49.40 109.20h1.30v1.30h-1.30zM52.00 109.20h1.30v1.30h-1.30zM48.10 110.50h1.30v1.30h-1.30zM53.30 110.50h1.30v1.30h-1.30z" fill="#e60000"/>
<path d="M81.90 110.50h1.30v1.30h-1.30z" fill="url(#b12)"/>
<path d="M41.60 123.50h10.40v1.30h-10.40zM42.90 124.80h7.80v1.30h-7.80z" fill="url(#b13)"/>
<path d="M41.60 123.50h2.60v1.30h-2.60zM45.50 123.50h2.60v1.30h-2.60zM49.40 123.50h1.30v1.30h-1.30zM42.90 124.80h1.30v1.30h-1.30zM46.80 124.80h1.30v1.30h-1.30zM49.40 124.80h1.30v1.30h-1.30z" fill="#e60000"/>
<path d="M68.90 123.50h2.60v1.30h-2.60zM67.60 124.80h5.20v1.30h-5.20z" fill="url(#b14)"/>
<path d="M68.90 123.50h2.60v1.30h-2.60zM67.60 124.80h2.60v1.30h-2.60zM71.50 124.80h1.30v1.30h-1.30z" fill="#e60000"/>
<path d="M139.10 79.30h5.20v1.30h-5.20zM135.20 80.60h10.40v1.30h-10.40zM131.30 81.90h15.60v1.30h-15.60zM131.30 83.20h15.60v1.30h-15.60zM130.00 84.50h16.90v1.30h-16.90zM130.00 85.80h16.90v1.30h-16.90zM130.00 87.10h16.90v1.30h-16.90zM130.00 88.40h15.60v1.30h-15.60zM131.30 89.70h15.60v1.30h-15.60zM131.30 91.00h13.00v1.30h-13.00zM131.30 92.30h13.00v1.30h-13.00zM133.90 93.60h9.10v1.30h-9.10zM132.60 94.90h5.20v1.30h-5.20z" fill="url(#b15)"/>
<path d="M143.00 79.30h1.30v1.30h-1.30zM136.50 80.60h2.60v1.30h-2.60zM131.30 81.90h3.90v1.30h-3.90zM131.30 83.20h1.30v1.30h-1.30zM145.60 83.20h1.30v1.30h-1.30zM130.00 84.50h1.30v1.30h-1.30zM145.60 84.50h1.30v1.30h-1.30zM130.00 85.80h1.30v1.30h-1.30zM145.60 85.80h1.30v1.30h-1.30zM130.00 87.10h1.30v1.30h-1.30zM145.60 87.10h1.30v1.30h-1.30zM130.00 88.40h1.30v1.30h-1.30zM144.30 89.70h2.60v1.30h-2.60zM131.30 91.00h1.30v1.30h-1.30zM143.00 91.00h1.30v1.30h-1.30zM131.30 92.30h2.60v1.30h-2.60zM141.70 93.60h1.30v1.30h-1.30zM136.50 94.90h1.30v1.30h-1.30z" fill="#e60000"/>
<path d="M215.80 76.70h1.30v1.30h-1.30zM219.70 76.70h7.80v1.30h-7.80zM215.80 78.00h13.00v1.30h-13.00zM213.20 79.30h15.60v1.30h-15.60zM214.50 80.60h16.90v1.30h-16.90zM213.20 81.90h16.90v1.30h-16.90zM213.20 83.20h16.90v1.30h-16.90zM213.20 84.50h16.90v1.30h-16.90zM211.90 85.80h19.50v1.30h-19.50zM211.90 87.10h18.20v1.30h-18.20zM213.20 88.40h18.20v1.30h-18.20zM213.20 89.70h18.20v1.30h-18.20zM214.50 91.00h16.90v1.30h-16.90zM213.20 92.30h16.90v1.30h-16.90zM214.50 93.60h16.90v1.30h-16.90zM215.80 94.90h13.00v1.30h-13.00zM217.10 96.20h11.70v1.30h-11.70zM218.40 97.50h7.80v1.30h-7.80zM219.70 98.80h2.60v1.30h-2.60z" fill="url(#b16)"/>
<path d="M215.80 76.70h1.30v1.30h-1.30zM219.70 76.70h1.30v1.30h-1.30zM224.90 76.70h1.30v1.30h-1.30zM215.80 78.00h1.30v1.30h-1.30zM218.40 78.00h1.30v1.30h-1.30zM214.50 79.30h1.30v1.30h-1.30zM228.80 80.60h2.60v1.30h-2.60zM213.20 81.90h1.30v1.30h-1.30zM213.20 83.20h1.30v1.30h-1.30zM228.80 83.20h1.30v1.30h-1.30zM213.20 84.50h1.30v1.30h-1.30zM228.80 84.50h1.30v1.30h-1.30zM211.90 85.80h1.30v1.30h-1.30zM230.10 85.80h1.30v1.30h-1.30zM211.90 87.10h1.30v1.30h-1.30zM228.80 87.10h1.30v1.30h-1.30zM213.20 88.40h1.30v1.30h-1.30zM230.10 89.70h1.30v1.30h-1.30zM213.20 92.30h1.30v1.30h-1.30zM228.80 92.30h1.30v1.30h-1.30zM214.50 93.60h1.30v1.30h-1.30zM230.10 93.60h1.30v1.30h-1.30zM215.80 94.90h1.30v1.30h-1.30zM226.20 96.20h2.60v1.30h-2.60zM218.40 97.50h1.30v1.30h-1.30zM224.90 97.50h1.30v1.30h-1.30zM219.70 98.80h2.60v1.30h-2.60z" fill="#e60000"/>
<path d="M310.70 72.80h1.30v1.30h-1.30zM308.10 74.10h5.20v1.30h-5.20zM300.30 75.40h16.90v1.30h-16.90zM297.70 76.70h20.80v1.30h-20.80zM295.10 78.00h23.40v1.30h-23.40zM296.40 79.30h23.40v1.30h-23.40zM295.10 80.60h26.00v1.30h-26.00zM295.10 81.90h26.00v1.30h-26.00zM295.10 83.20h24.70v1.30h-24.70zM293.80 84.50h26.00v1.30h-26.00zM295.10 85.80h24.70v1.30h-24.70zM293.80 87.10h27.30v1.30h-27.30zM295.10 88.40h26.00v1.30h-26.00zM293.80 89.70h27.30v1.30h-27.30zM295.10 91.00h26.00v1.30h-26.00zM295.10 92.30h24.70v1.30h-24.70zM295.10 93.60h26.00v1.30h-26.00zM295.10 94.90h24.70v1.30h-24.70zM296.40 96.20h22.10v1.30h-22.10zM296.40 97.50h19.50v1.30h-19.50zM297.70 98.80h16.90v1.30h-16.90zM299.00 100.10h11.70v1.30h-11.70zM312.00 100.10h2.60v1.30h-2.60z" fill="url(#b17)"/>
<path d="M310.70 72.80h1.30v1.30h-1.30zM309.40 74.10h1.30v1.30h-1.30zM312.00 74.10h1.30v1.30h-1.30zM304.20 75.40h3.90v1.30h-3.90zM314.60 75.40h2.60v1.30h-2.60zM299.00 76.70h1.30v1.30h-1.30zM296.40 78.00h1.30v1.30h-1.30zM317.20 78.00h1.30v1.30h-1.30zM296.40 79.30h1.30v1.30h-1.30zM319.80 80.60h1.30v1.30h-1.30zM295.10 81.90h1.30v1.30h-1.30zM318.50 83.20h1.30v1.30h-1.30zM293.80 84.50h1.30v1.30h-1.30zM295.10 85.80h1.30v1.30h-1.30zM318.50 85.80h1.30v1.30h-1.30zM319.80 87.10h1.30v1.30h-1.30zM319.80 89.70h1.30v1.30h-1.30zM295.10 91.00h1.30v1.30h-1.30zM319.80 91.00h1.30v1.30h-1.30zM318.50 92.30h1.30v1.30h-1.30zM295.10 93.60h1.30v1.30h-1.30zM319.80 93.60h1.30v1.30h-1.30zM295.10 94.90h1.30v1.30h-1.30zM318.50 94.90h1.30v1.30h-1.30zM296.40 96.20h1.30v1.30h-1.30zM315.90 96.20h2.60v1.30h-2.60zM296.40 97.50h1.30v1.30h-1.30zM313.30 98.80h1.30v1.30h-1.30zM299.00 100.10h1.30v1.30h-1.30zM302.90 100.10h1.30v1.30h-1.30zM306.80 100.10h3.90v1.30h-3.90z" fill="#e60000"/>
<path d="M74.10 171.60h5.20v1.30h-5.20zM72.80 172.90h6.50v1.30h-6.50zM74.10 174.20h5.20v1.30h-5.20zM74.10 175.50h2.60v1.30h-2.60zM78.00 175.50h1.30v1.30h-1.30z" fill="url(#b18)"/>
<path d="M75.40 171.60h1.30v1.30h-1.30zM78.00 171.60h1.30v1.30h-1.30zM72.80 172.90h1.30v1.30h-1.30zM74.10 174.20h1.30v1.30h-1.30zM76.70 174.20h2.60v1.30h-2.60zM74.10 175.50h1.30v1.30h-1.30z" fill="#e60000"/>
<path d="M76.70 191.10h1.30v1.30h-1.30zM75.40 192.40h6.50v1.30h-6.50zM74.10 193.70h7.80v1.30h-7.80zM74.10 195.00h9.10v1.30h-9.10zM75.40 196.30h6.50v1.30h-6.50zM79.30 197.60h2.60v1.30h-2.60z" fill="url(#b19)"/>
<path d="M76.70 191.10h1.30v1.30h-1.30zM75.40 192.40h1.30v1.30h-1.30zM78.00 192.40h3.90v1.30h-3.90zM74.10 193.70h1.30v1.30h-1.30zM80.60 193.70h1.30v1.30h-1.30zM74.10 195.00h1.30v1.30h-1.30zM78.00 196.30h1.30v1.30h-1.30zM80.60 196.30h1.30v1.30h-1.30zM79.30 197.60h1.30v1.30h-1.30z" fill="#e60000"/>
<path d="M45.50 201.50h3.90v1.30h-3.90zM41.60 202.80h10.40v1.30h-10.40zM41.60 204.10h10.40v1.30h-10.40zM41.60 205.40h9.10v1.30h-9.10z" fill="url(#b20)"/>
<path d="M45.50 201.50h2.60v1.30h-2.60zM42.90 202.80h1.30v1.30h-1.30zM49.40 202.80h1.30v1.30h-1.30zM50.70 204.10h1.30v1.30h-1.30zM44.20 205.40h3.90v1.30h-3.90zM49.40 205.40h1.30v1.30h-1.30z" fill="#e60000"/>
<path d="M46.80 219.70h9.10v1.30h-9.10zM42.90 221.00h13.00v1.30h-13.00zM42.90 222.30h14.30v1.30h-14.30zM44.20 223.60h11.70v1.30h-11.70zM48.10 224.90h1.30v1.30h-1.30zM52.00 224.90h1.30v1.30h-1.30z" fill="url(#b21)"/>
<path d="M46.80 219.70h3.90v1.30h-3.90zM52.00 219.70h2.60v1.30h-2.60zM44.20 221.00h2.60v1.30h-2.60zM55.90 222.30h1.30v1.30h-1.30zM45.50 223.60h1.30v1.30h-1.30zM49.40 223.60h1.30v1.30h-1.30zM53.30 223.60h2.60v1.30h-2.60zM48.10 224.90h1.30v1.30h-1.30zM52.00 224.90h1.30v1.30h-1.30z" fill="#e60000"/>
<path d="M42.90 175.50h5.20v1.30h-5.20zM42.90 176.80h6.50v1.30h-6.50zM41.60 178.10h7.80v1.30h-7.80zM42.90 179.40h7.80v1.30h-7.80zM52.00 179.40h1.30v1.30h-1.30zM44.20 180.70h9.10v1.30h-9.10zM45.50 182.00h10.40v1.30h-10.40zM50.70 183.30h1.30v1.30h-1.30zM53.30 183.30h6.50v1.30h-6.50zM54.60 184.60h6.50v1.30h-6.50zM58.50 185.90h2.60v1.30h-2.60z" fill="url(#b22)"/>
<path d="M44.20 175.50h3.90v1.30h-3.90zM48.10 176.80h1.30v1.30h-1.30zM41.60 178.10h1.30v1.30h-1.30zM48.10 178.10h1.30v1.30h-1.30zM49.40 179.40h1.30v1.30h-1.30zM50.70 180.70h2.60v1.30h-2.60zM46.80 182.00h2.60v1.30h-2.60zM53.30 182.00h2.60v1.30h-2.60zM53.30 183.30h1.30v1.30h-1.30zM55.90 183.30h3.90v1.30h-3.90zM54.60 184.60h1.30v1.30h-1.30zM58.50 185.90h2.60v1.30h-2.60z" fill="#e60000"/>
<path d="M33.80 161.20h1.30v1.30h-1.30zM31.20 162.50h2.60v1.30h-2.60zM29.90 163.80h3.90v1.30h-3.90zM29.90 165.10h1.30v1.30h-1.30z" fill="url(#b23)"/>
<path d="M33.80 161.20h1.30v1.30h-1.30zM31.20 162.50h1.30v1.30h-1.30zM29.90 163.80h3.90v1.30h-3.90zM29.90 165.10h1.30v1.30h-1.30z" fill="#e60000"/>
<path d="M59.80 159.90h1.30v1.30h-1.30zM57.20 161.20h3.90v1.30h-3.90zM58.50 162.50h3.90v1.30h-3.90zM61.10 163.80h1.30v1.30h-1.30z" fill="url(#b24)"/>
<path d="M61.10 163.80h1.30v1.30h-1.30z" fill="#e60000"/>
<path d="M115.70 158.60h2.60v1.30h-2.60zM114.40 159.90h7.80v1.30h-7.80zM114.40 161.20h7.80v1.30h-7.80zM114.40 162.50h9.10v1.30h-9.10zM114.40 163.80h7.80v1.30h-7.80zM114.40 165.10h7.80v1.30h-7.80zM115.70 166.40h3.90v1.30h-3.90z" fill="url(#b25)"/>
<path d="M118.30 159.90h1.30v1.30h-1.30zM114.40 161.20h1.30v1.30h-1.30zM120.90 161.20h1.30v1.30h-1.30zM114.40 162.50h1.30v1.30h-1.30zM122.20 162.50h1.30v1.30h-1.30zM114.40 163.80h1.30v1.30h-1.30zM120.90 163.80h1.30v1.30h-1.30zM119.60 165.10h1.30v1.30h-1.30zM115.70 166.40h3.90v1.30h-3.90z" fill="#e60000"/>
<path d="M131.30 174.20h3.90v1.30h-3.90zM128.70 175.50h9.10v1.30h-9.10zM128.70 176.80h10.40v1.30h-10.40zM128.70 178.10h11.70v1.30h-11.70zM141.70 178.10h1.30v1.30h-1.30zM130.00 179.40h14.30v1.30h-14.30zM132.60 180.70h13.00v1.30h-13.00zM135.20 182.00h3.90v1.30h-3.90zM140.40 182.00h5.20v1.30h-5.20z" fill="url(#b26)"/>
<path d="M132.60 174.20h2.60v1.30h-2.60zM128.70 178.10h1.30v1.30h-1.30zM139.10 178.10h1.30v1.30h-1.30zM141.70 178.10h1.30v1.30h-1.30zM130.00 179.40h1.30v1.30h-1.30zM132.60 180.70h1.30v1.30h-1.30zM144.30 180.70h1.30v1.30h-1.30zM137.80 182.00h1.30v1.30h-1.30zM140.40 182.00h1.30v1.30h-1.30zM143.00 182.00h2.60v1.30h-2.60z" fill="#e60000"/>
<path d="M111.80 187.20h5.20v1.30h-5.20zM118.30 187.20h1.30v1.30h-1.30zM110.50 188.50h9.10v1.30h-9.10zM111.80 189.80h9.10v1.30h-9.10zM110.50 191.10h11.70v1.30h-11.70zM111.80 192.40h10.40v1.30h-10.40zM111.80 193.70h11.70v1.30h-11.70zM113.10 195.00h10.40v1.30h-10.40zM114.40 196.30h10.40v1.30h-10.40zM114.40 197.60h9.10v1.30h-9.10zM115.70 198.90h7.80v1.30h-7.80zM118.30 200.20h3.90v1.30h-3.90zM118.30 201.50h1.30v1.30h-1.30z" fill="url(#b27)"/>
<path d="M118.30 187.20h1.30v1.30h-1.30zM117.00 188.50h1.30v1.30h-1.30zM119.60 189.80h1.30v1.30h-1.30zM111.80 192.40h1.30v1.30h-1.30zM120.90 192.40h1.30v1.30h-1.30zM122.20 193.70h1.30v1.30h-1.30zM122.20 195.00h1.30v1.30h-1.30zM122.20 197.60h1.30v1.30h-1.30zM115.70 198.90h2.60v1.30h-2.60zM122.20 198.90h1.30v1.30h-1.30zM119.60 200.20h2.60v1.30h-2.60zM118.30 201.50h1.30v1.30h-1.30z" fill="#e60000"/>
<path d="M152.10 188.50h1.30v1.30h-1.30zM148.20 189.80h9.10v1.30h-9.10zM146.90 191.10h11.70v1.30h-11.70zM145.60 192.40h11.70v1.30h-11.70zM145.60 193.70h13.00v1.30h-13.00zM145.60 195.00h11.70v1.30h-11.70zM145.60 196.30h11.70v1.30h-11.70zM145.60 197.60h10.40v1.30h-10.40zM144.30 198.90h13.00v1.30h-13.00zM145.60 200.20h10.40v1.30h-10.40zM145.60 201.50h10.40v1.30h-10.40zM145.60 202.80h10.40v1.30h-10.40zM145.60 204.10h10.40v1.30h-10.40zM145.60 205.40h10.40v1.30h-10.40zM148.20 206.70h1.30v1.30h-1.30zM150.80 206.70h1.30v1.30h-1.30z" fill="url(#b28)"/>
<path d="M152.10 188.50h1.30v1.30h-1.30zM149.50 189.80h2.60v1.30h-2.60zM154.70 189.80h2.60v1.30h-2.60zM146.90 191.10h1.30v1.30h-1.30zM157.30 191.10h1.30v1.30h-1.30zM145.60 192.40h1.30v1.30h-1.30zM156.00 192.40h1.30v1.30h-1.30zM156.00 195.00h1.30v1.30h-1.30zM145.60 197.60h1.30v1.30h-1.30zM145.60 200.20h1.30v1.30h-1.30zM154.70 201.50h1.30v1.30h-1.30zM145.60 202.80h1.30v1.30h-1.30zM145.60 204.10h1.30v1.30h-1.30zM145.60 205.40h2.60v1.30h-2.60zM149.50 205.40h1.30v1.30h-1.30zM153.40 205.40h1.30v1.30h-1.30z" fill="#e60000"/>
<path d="M163.80 185.90h1.30v1.30h-1.30zM157.30 187.20h1.30v1.30h-1.30zM159.90 187.20h9.10v1.30h-9.10zM154.70 188.50h1.30v1.30h-1.30zM157.30 188.50h11.70v1.30h-11.70zM154.70 189.80h14.30v1.30h-14.30zM153.40 191.10h18.20v1.30h-18.20zM154.70 192.40h15.60v1.30h-15.60zM154.70 193.70h11.70v1.30h-11.70zM154.70 195.00h9.10v1.30h-9.10zM156.00 196.30h2.60v1.30h-2.60zM154.70 197.60h2.60v1.30h-2.60z" fill="url(#b29)"/>
<path d="M163.80 185.90h1.30v1.30h-1.30zM157.30 187.20h1.30v1.30h-1.30zM166.40 187.20h2.60v1.30h-2.60zM154.70 188.50h1.30v1.30h-1.30zM167.70 188.50h1.30v1.30h-1.30zM153.40 191.10h1.30v1.30h-1.30zM169.00 191.10h2.60v1.30h-2.60zM154.70 192.40h1.30v1.30h-1.30zM166.40 192.40h1.30v1.30h-1.30zM169.00 192.40h1.30v1.30h-1.30zM154.70 195.00h1.30v1.30h-1.30zM158.60 195.00h3.90v1.30h-3.90zM156.00 196.30h2.60v1.30h-2.60zM154.70 197.60h1.30v1.30h-1.30z" fill="#e60000"/>
<path d="M130.00 214.50h2.60v1.30h-2.60zM124.80 215.80h9.10v1.30h-9.10zM126.10 217.10h9.10v1.30h-9.10zM126.10 218.40h9.10v1.30h-9.10zM127.40 219.70h3.90v1.30h-3.90zM128.70 221.00h2.60v1.30h-2.60z" fill="url(#b30)"/>
<path d="M126.10 215.80h3.90v1.30h-3.90zM131.30 218.40h1.30v1.30h-1.30zM127.40 219.70h1.30v1.30h-1.30zM128.70 221.00h1.30v1.30h-1.30z" fill="#e60000"/>
<path d="M162.50 167.70h2.60v1.30h-2.60zM162.50 169.00h2.60v1.30h-2.60zM162.50 170.30h2.60v1.30h-2.60zM162.50 171.60h1.30v1.30h-1.30z" fill="url(#b31)"/>
<path d="M163.80 167.70h1.30v1.30h-1.30zM163.80 169.00h1.30v1.30h-1.30zM162.50 170.30h2.60v1.30h-2.60z" fill="#e60000"/>
<path d="M143.00 156.00h1.30v1.30h-1.30zM141.70 157.30h5.20v1.30h-5.20z" fill="url(#b32)"/>
<path d="M141.70 157.30h1.30v1.30h-1.30zM144.30 157.30h2.60v1.30h-2.60z" fill="#e60000"/>
<path d="M135.20 150.80h1.30v1.30h-1.30zM135.20 152.10h2.60v1.30h-2.60z" fill="url(#b33)"/>
<path d="M135.20 152.10h2.60v1.30h-2.60z" fill="#e60000"/>
<path d="M163.80 210.60h2.60v1.30h-2.60zM163.80 211.90h3.90v1.30h-3.90zM163.80 213.20h3.90v1.30h-3.90zM163.80 214.50h3.90v1.30h-3.90zM165.10 215.80h1.30v1.30h-1.30z" fill="url(#b34)"/>
<path d="M165.10 210.60h1.30v1.30h-1.30zM166.40 211.90h1.30v1.30h-1.30zM163.80 214.50h1.30v1.30h-1.30zM165.10 215.80h1.30v1.30h-1.30z" fill="#e60000"/>
<path d="M148.20 221.00h1.30v1.30h-1.30zM145.60 222.30h3.90v1.30h-3.90z" fill="url(#b35)"/>
<path d="M148.20 221.00h1.30v1.30h-1.30zM148.20 222.30h1.30v1.30h-1.30z" fill="#e60000"/>
<path d="M205.40 182.00h3.90v1.30h-3.90zM201.50 183.30h7.80v1.30h-7.80zM198.90 184.60h11.70v1.30h-11.70zM197.60 185.90h11.70v1.30h-11.70zM197.60 187.20h11.70v1.30h-11.70zM197.60 188.50h13.00v1.30h-13.00zM197.60 189.80h11.70v1.30h-11.70zM198.90 191.10h10.40v1.30h-10.40zM198.90 192.40h7.80v1.30h-7.80zM200.20 193.70h5.20v1.30h-5.20zM202.80 195.00h1.30v1.30h-1.30z" fill="url(#b36)"/>
<path d="M205.40 182.00h2.60v1.30h-2.60zM204.10 183.30h1.30v1.30h-1.30zM198.90 184.60h2.60v1.30h-2.60zM208.00 185.90h1.30v1.30h-1.30zM197.60 187.20h1.30v1.30h-1.30zM197.60 188.50h1.30v1.30h-1.30zM209.30 188.50h1.30v1.30h-1.30zM198.90 191.10h1.30v1.30h-1.30zM198.90 192.40h1.30v1.30h-1.30zM205.40 192.40h1.30v1.30h-1.30zM200.20 193.70h1.30v1.30h-1.30z" fill="#e60000"/>
<path d="M234.00 180.70h1.30v1.30h-1.30zM230.10 182.00h1.30v1.30h-1.30zM232.70 182.00h3.90v1.30h-3.90zM237.90 182.00h3.90v1.30h-3.90zM228.80 183.30h15.60v1.30h-15.60zM227.50 184.60h20.80v1.30h-20.80zM228.80 185.90h23.40v1.30h-23.40zM227.50 187.20h24.70v1.30h-24.70zM228.80 188.50h24.70v1.30h-24.70zM228.80 189.80h23.40v1.30h-23.40zM230.10 191.10h20.80v1.30h-20.80zM231.40 192.40h19.50v1.30h-19.50zM231.40 193.70h15.60v1.30h-15.60zM248.30 193.70h1.30v1.30h-1.30zM232.70 195.00h13.00v1.30h-13.00zM234.00 196.30h10.40v1.30h-10.40zM234.00 197.60h1.30v1.30h-1.30zM236.60 197.60h5.20v1.30h-5.20z" fill="url(#b37)"/>
<path d="M232.70 182.00h1.30v1.30h-1.30zM235.30 182.00h1.30v1.30h-1.30zM239.20 182.00h1.30v1.30h-1.30zM228.80 183.30h1.30v1.30h-1.30zM236.60 183.30h1.30v1.30h-1.30zM243.10 183.30h1.30v1.30h-1.30zM245.70 184.60h1.30v1.30h-1.30zM248.30 185.90h2.60v1.30h-2.60zM250.90 187.20h1.30v1.30h-1.30zM252.20 188.50h1.30v1.30h-1.30zM228.80 189.80h1.30v1.30h-1.30zM249.60 191.10h1.30v1.30h-1.30zM231.40 192.40h1.30v1.30h-1.30zM231.40 193.70h1.30v1.30h-1.30zM232.70 195.00h1.30v1.30h-1.30zM234.00 196.30h2.60v1.30h-2.60zM241.80 196.30h2.60v1.30h-2.60zM236.60 197.60h2.60v1.30h-2.60z" fill="#e60000"/>
<path d="M287.30 174.20h7.80v1.30h-7.80zM296.40 174.20h5.20v1.30h-5.20zM286.00 175.50h15.60v1.30h-15.60zM302.90 175.50h1.30v1.30h-1.30zM306.80 175.50h2.60v1.30h-2.60zM312.00 175.50h1.30v1.30h-1.30zM284.70 176.80h29.90v1.30h-29.90zM315.90 176.80h2.60v1.30h-2.60zM280.80 178.10h40.30v1.30h-40.30zM322.40 178.10h1.30v1.30h-1.30zM279.50 179.40h48.10v1.30h-48.10zM278.20 180.70h50.70v1.30h-50.70zM276.90 182.00h55.90v1.30h-55.90zM276.90 183.30h55.90v1.30h-55.90zM276.90 184.60h57.20v1.30h-57.20zM275.60 185.90h59.80v1.30h-59.80zM275.60 187.20h59.80v1.30h-59.80zM275.60 188.50h58.50v1.30h-58.50zM275.60 189.80h59.80v1.30h-59.80zM276.90 191.10h58.50v1.30h-58.50zM276.90 192.40h58.50v1.30h-58.50zM278.20 193.70h57.20v1.30h-57.20zM279.50 195.00h54.60v1.30h-54.60zM279.50 196.30h54.60v1.30h-54.60zM282.10 197.60h11.70v1.30h-11.70zM302.90 197.60h3.90v1.30h-3.90zM308.10 197.60h24.70v1.30h-24.70zM283.40 198.90h7.80v1.30h-7.80zM312.00 198.90h1.30v1.30h-1.30zM314.60 198.90h16.90v1.30h-16.90zM314.60 200.20h1.30v1.30h-1.30zM318.50 200.20h11.70v1.30h-11.70zM322.40 201.50h3.90v1.30h-3.90zM327.60 201.50h1.30v1.30h-1.30z" fill="url(#b38)"/>
<rect x="273.50" y="176.60" width="27.00" height="24.00" fill="url(#b38s0)" clip-path="url(#cb38)"/>
<rect x="309.80" y="178.80" width="27.00" height="24.00" fill="url(#b38s1)" clip-path="url(#cb38)"/>
<path d="M287.30 174.20h2.60v1.30h-2.60zM291.20 174.20h3.90v1.30h-3.90zM296.40 174.20h1.30v1.30h-1.30zM299.00 174.20h2.60v1.30h-2.60zM286.00 175.50h1.30v1.30h-1.30zM295.10 175.50h1.30v1.30h-1.30zM300.30 175.50h1.30v1.30h-1.30zM306.80 175.50h2.60v1.30h-2.60zM312.00 175.50h1.30v1.30h-1.30zM304.20 176.80h2.60v1.30h-2.60zM309.40 176.80h1.30v1.30h-1.30zM315.90 176.80h1.30v1.30h-1.30zM280.80 178.10h2.60v1.30h-2.60zM314.60 178.10h1.30v1.30h-1.30zM318.50 178.10h2.60v1.30h-2.60zM321.10 179.40h1.30v1.30h-1.30zM323.70 179.40h2.60v1.30h-2.60zM278.20 180.70h1.30v1.30h-1.30zM276.90 182.00h1.30v1.30h-1.30zM328.90 182.00h2.60v1.30h-2.60zM331.50 183.30h1.30v1.30h-1.30zM334.10 185.90h1.30v1.30h-1.30zM334.10 187.20h1.30v1.30h-1.30zM332.80 188.50h1.30v1.30h-1.30zM334.10 189.80h1.30v1.30h-1.30zM276.90 191.10h1.30v1.30h-1.30zM334.10 191.10h1.30v1.30h-1.30zM276.90 192.40h1.30v1.30h-1.30zM334.10 192.40h1.30v1.30h-1.30zM334.10 193.70h1.30v1.30h-1.30zM279.50 195.00h1.30v1.30h-1.30zM293.80 196.30h1.30v1.30h-1.30zM296.40 196.30h2.60v1.30h-2.60zM306.80 196.30h1.30v1.30h-1.30zM292.50 197.60h1.30v1.30h-1.30zM304.20 197.60h1.30v1.30h-1.30zM309.40 197.60h2.60v1.30h-2.60zM313.30 197.60h1.30v1.30h-1.30zM331.50 197.60h1.30v1.30h-1.30zM286.00 198.90h1.30v1.30h-1.30zM288.60 198.90h2.60v1.30h-2.60zM315.90 198.90h2.60v1.30h-2.60zM330.20 198.90h1.30v1.30h-1.30zM318.50 200.20h3.90v1.30h-3.90zM326.30 200.20h1.30v1.30h-1.30zM325.00 201.50h1.30v1.30h-1.30z" fill="#e60000"/>
<path d="M46.80 258.70h2.60v1.30h-2.60zM45.50 260.00h3.90v1.30h-3.90zM44.20 261.30h7.80v1.30h-7.80zM44.20 262.60h7.80v1.30h-7.80zM44.20 263.90h7.80v1.30h-7.80zM45.50 265.20h3.90v1.30h-3.90zM46.80 266.50h2.60v1.30h-2.60z" fill="url(#b39)"/>
<path d="M46.80 258.70h2.60v1.30h-2.60zM44.20 261.30h1.30v1.30h-1.30zM50.70 261.30h1.30v1.30h-1.30zM44.20 262.60h1.30v1.30h-1.30zM50.70 262.60h1.30v1.30h-1.30zM44.20 263.90h1.30v1.30h-1.30zM45.50 265.20h1.30v1.30h-1.30zM48.10 265.20h1.30v1.30h-1.30zM46.80 266.50h2.60v1.30h-2.60z" fill="#e60000"/>
<path d="M67.60 257.40h3.90v1.30h-3.90zM66.30 258.70h5.20v1.30h-5.20zM66.30 260.00h5.20v1.30h-5.20zM65.00 261.30h6.50v1.30h-6.50zM65.00 262.60h6.50v1.30h-6.50zM65.00 263.90h6.50v1.30h-6.50zM65.00 265.20h6.50v1.30h-6.50zM66.30 266.50h5.20v1.30h-5.20zM66.30 267.80h5.20v1.30h-5.20zM66.30 269.10h5.20v1.30h-5.20zM66.30 270.40h3.90v1.30h-3.90zM67.60 271.70h2.60v1.30h-2.60z" fill="url(#b40)"/>
<path d="M67.60 257.40h2.60v1.30h-2.60zM66.30 258.70h1.30v1.30h-1.30zM70.20 258.70h1.30v1.30h-1.30zM66.30 260.00h1.30v1.30h-1.30zM65.00 261.30h1.30v1.30h-1.30zM65.00 265.20h1.30v1.30h-1.30zM70.20 265.20h1.30v1.30h-1.30zM70.20 266.50h1.30v1.30h-1.30zM66.30 267.80h1.30v1.30h-1.30zM70.20 267.80h1.30v1.30h-1.30zM70.20 269.10h1.30v1.30h-1.30zM68.90 270.40h1.30v1.30h-1.30zM67.60 271.70h1.30v1.30h-1.30z" fill="#e60000"/>
<path d="M85.80 265.20h1.30v1.30h-1.30zM84.50 266.50h2.60v1.30h-2.60zM85.80 267.80h1.30v1.30h-1.30z" fill="url(#b41)"/>
<path d="M84.50 266.50h2.60v1.30h-2.60zM85.80 267.80h1.30v1.30h-1.30z" fill="#e60000"/>
<path d="M81.90 276.90h1.30v1.30h-1.30zM81.90 278.20h2.60v1.30h-2.60zM80.60 279.50h3.90v1.30h-3.90zM80.60 280.80h3.90v1.30h-3.90zM81.90 282.10h2.60v1.30h-2.60zM81.90 283.40h1.30v1.30h-1.30z" fill="url(#b42)"/>
<path d="M81.90 276.90h1.30v1.30h-1.30zM83.20 278.20h1.30v1.30h-1.30zM80.60 280.80h1.30v1.30h-1.30zM83.20 280.80h1.30v1.30h-1.30zM81.90 282.10h2.60v1.30h-2.60zM81.90 283.40h1.30v1.30h-1.30z" fill="#e60000"/>
<path d="M58.50 279.50h1.30v1.30h-1.30zM57.20 280.80h5.20v1.30h-5.20zM57.20 282.10h6.50v1.30h-6.50zM55.90 283.40h6.50v1.30h-6.50zM55.90 284.70h6.50v1.30h-6.50zM57.20 286.00h5.20v1.30h-5.20zM57.20 287.30h5.20v1.30h-5.20z" fill="url(#b43)"/>
<path d="M58.50 279.50h1.30v1.30h-1.30zM57.20 280.80h1.30v1.30h-1.30zM59.80 280.80h2.60v1.30h-2.60zM55.90 283.40h1.30v1.30h-1.30zM61.10 283.40h1.30v1.30h-1.30zM57.20 286.00h1.30v1.30h-1.30zM57.20 287.30h5.20v1.30h-5.20z" fill="#e60000"/>
<path d="M36.40 286.00h3.90v1.30h-3.90zM35.10 287.30h6.50v1.30h-6.50zM35.10 288.60h6.50v1.30h-6.50zM35.10 289.90h5.20v1.30h-5.20zM35.10 291.20h5.20v1.30h-5.20zM36.40 292.50h3.90v1.30h-3.90z" fill="url(#b44)"/>
<path d="M36.40 286.00h1.30v1.30h-1.30zM39.00 286.00h1.30v1.30h-1.30zM40.30 287.30h1.30v1.30h-1.30zM35.10 288.60h1.30v1.30h-1.30zM35.10 289.90h1.30v1.30h-1.30zM39.00 289.90h1.30v1.30h-1.30zM37.70 292.50h1.30v1.30h-1.30z" fill="#e60000"/>
<path d="M53.30 308.10h3.90v1.30h-3.90zM49.40 309.40h9.10v1.30h-9.10zM49.40 310.70h11.70v1.30h-11.70zM49.40 312.00h10.40v1.30h-10.40zM49.40 313.30h9.10v1.30h-9.10zM49.40 314.60h1.30v1.30h-1.30zM52.00 314.60h5.20v1.30h-5.20z" fill="url(#b45)"/>
<path d="M55.90 308.10h1.30v1.30h-1.30zM49.40 309.40h1.30v1.30h-1.30zM57.20 309.40h1.30v1.30h-1.30zM49.40 310.70h1.30v1.30h-1.30zM58.50 310.70h1.30v1.30h-1.30zM49.40 312.00h1.30v1.30h-1.30zM58.50 312.00h1.30v1.30h-1.30zM49.40 314.60h1.30v1.30h-1.30zM52.00 314.60h1.30v1.30h-1.30zM54.60 314.60h1.30v1.30h-1.30z" fill="#e60000"/>
<path d="M139.10 248.30h5.20v1.30h-5.20zM137.80 249.60h7.80v1.30h-7.80zM137.80 250.90h6.50v1.30h-6.50zM143.00 252.20h1.30v1.30h-1.30z" fill="url(#b46)"/>
<path d="M139.10 248.30h3.90v1.30h-3.90zM144.30 249.60h1.30v1.30h-1.30zM137.80 250.90h3.90v1.30h-3.90zM143.00 250.90h1.30v1.30h-1.30zM143.00 252.20h1.30v1.30h-1.30z" fill="#e60000"/>
<path d="M153.40 265.20h1.30v1.30h-1.30zM152.10 266.50h2.60v1.30h-2.60zM148.20 267.80h6.50v1.30h-6.50zM148.20 269.10h6.50v1.30h-6.50zM146.90 270.40h7.80v1.30h-7.80zM145.60 271.70h9.10v1.30h-9.10zM145.60 273.00h10.40v1.30h-10.40zM144.30 274.30h10.40v1.30h-10.40zM144.30 275.60h10.40v1.30h-10.40zM144.30 276.90h10.40v1.30h-10.40zM143.00 278.20h11.70v1.30h-11.70zM143.00 279.50h10.40v1.30h-10.40zM143.00 280.80h10.40v1.30h-10.40zM143.00 282.10h9.10v1.30h-9.10zM143.00 283.40h7.80v1.30h-7.80zM145.60 284.70h3.90v1.30h-3.90z" fill="url(#b47)"/>
<path d="M152.10 266.50h1.30v1.30h-1.30zM149.50 267.80h2.60v1.30h-2.60zM153.40 267.80h1.30v1.30h-1.30zM148.20 269.10h1.30v1.30h-1.30zM153.40 269.10h1.30v1.30h-1.30zM146.90 270.40h1.30v1.30h-1.30zM153.40 270.40h1.30v1.30h-1.30zM145.60 271.70h1.30v1.30h-1.30zM145.60 273.00h1.30v1.30h-1.30zM144.30 275.60h1.30v1.30h-1.30zM143.00 278.20h1.30v1.30h-1.30zM143.00 279.50h1.30v1.30h-1.30zM143.00 280.80h1.30v1.30h-1.30zM150.80 282.10h1.30v1.30h-1.30zM144.30 283.40h1.30v1.30h-1.30zM145.60 284.70h1.30v1.30h-1.30zM148.20 284.70h1.30v1.30h-1.30z" fill="#e60000"/>
<path d="M157.30 254.80h1.30v1.30h-1.30zM157.30 256.10h2.60v1.30h-2.60zM153.40 257.40h6.50v1.30h-6.50zM154.70 258.70h6.50v1.30h-6.50zM152.10 260.00h9.10v1.30h-9.10zM153.40 261.30h6.50v1.30h-6.50zM153.40 262.60h5.20v1.30h-5.20zM152.10 263.90h5.20v1.30h-5.20zM152.10 265.20h5.20v1.30h-5.20zM152.10 266.50h3.90v1.30h-3.90z" fill="url(#b48)"/>
<path d="M157.30 254.80h1.30v1.30h-1.30zM157.30 256.10h1.30v1.30h-1.30zM154.70 257.40h1.30v1.30h-1.30zM159.90 260.00h1.30v1.30h-1.30zM153.40 261.30h1.30v1.30h-1.30zM158.60 261.30h1.30v1.30h-1.30zM153.40 266.50h1.30v1.30h-1.30z" fill="#e60000"/>
<path d="M118.30 276.90h1.30v1.30h-1.30zM120.90 276.90h1.30v1.30h-1.30zM117.00 278.20h7.80v1.30h-7.80zM117.00 279.50h9.10v1.30h-9.10zM117.00 280.80h9.10v1.30h-9.10zM115.70 282.10h11.70v1.30h-11.70zM117.00 283.40h10.40v1.30h-10.40zM117.00 284.70h1.30v1.30h-1.30zM119.60 284.70h7.80v1.30h-7.80zM119.60 286.00h7.80v1.30h-7.80zM119.60 287.30h7.80v1.30h-7.80zM120.90 288.60h5.20v1.30h-5.20zM123.50 289.90h1.30v1.30h-1.30z" fill="url(#b49)"/>
<path d="M118.30 276.90h1.30v1.30h-1.30zM120.90 276.90h1.30v1.30h-1.30zM119.60 278.20h1.30v1.30h-1.30zM123.50 278.20h1.30v1.30h-1.30zM117.00 279.50h1.30v1.30h-1.30zM124.80 279.50h1.30v1.30h-1.30zM117.00 280.80h1.30v1.30h-1.30zM124.80 280.80h1.30v1.30h-1.30zM115.70 282.10h1.30v1.30h-1.30zM126.10 282.10h1.30v1.30h-1.30zM117.00 283.40h1.30v1.30h-1.30zM126.10 283.40h1.30v1.30h-1.30zM126.10 286.00h1.30v1.30h-1.30zM119.60 287.30h1.30v1.30h-1.30zM120.90 288.60h2.60v1.30h-2.60zM123.50 289.90h1.30v1.30h-1.30z" fill="#e60000"/>
<path d="M139.10 301.60h1.30v1.30h-1.30zM141.70 301.60h1.30v1.30h-1.30zM144.30 301.60h1.30v1.30h-1.30zM136.50 302.90h10.40v1.30h-10.40zM136.50 304.20h13.00v1.30h-13.00zM135.20 305.50h14.30v1.30h-14.30zM136.50 306.80h13.00v1.30h-13.00zM135.20 308.10h13.00v1.30h-13.00zM137.80 309.40h9.10v1.30h-9.10z" fill="url(#b50)"/>
<path d="M139.10 301.60h1.30v1.30h-1.30zM141.70 301.60h1.30v1.30h-1.30zM144.30 301.60h1.30v1.30h-1.30zM136.50 302.90h2.60v1.30h-2.60zM140.40 302.90h1.30v1.30h-1.30zM143.00 302.90h1.30v1.30h-1.30zM145.60 302.90h1.30v1.30h-1.30zM136.50 304.20h1.30v1.30h-1.30zM146.90 304.20h2.60v1.30h-2.60zM135.20 305.50h1.30v1.30h-1.30zM148.20 305.50h1.30v1.30h-1.30zM148.20 306.80h1.30v1.30h-1.30zM136.50 308.10h1.30v1.30h-1.30zM137.80 309.40h2.60v1.30h-2.60zM141.70 309.40h1.30v1.30h-1.30zM145.60 309.40h1.30v1.30h-1.30z" fill="#e60000"/>
<path d="M123.50 318.50h5.20v1.30h-5.20zM123.50 319.80h6.50v1.30h-6.50zM123.50 321.10h5.20v1.30h-5.20z" fill="url(#b51)"/>
<path d="M126.10 318.50h1.30v1.30h-1.30zM123.50 319.80h1.30v1.30h-1.30zM128.70 319.80h1.30v1.30h-1.30zM126.10 321.10h2.60v1.30h-2.60z" fill="#e60000"/>
<path d="M240.50 253.50h1.30v1.30h-1.30zM240.50 254.80h3.90v1.30h-3.90zM237.90 256.10h5.20v1.30h-5.20zM237.90 257.40h6.50v1.30h-6.50zM237.90 258.70h3.90v1.30h-3.90zM237.90 260.00h3.90v1.30h-3.90zM235.30 261.30h6.50v1.30h-6.50zM235.30 262.60h5.20v1.30h-5.20zM234.00 263.90h7.80v1.30h-7.80zM231.40 265.20h9.10v1.30h-9.10zM228.80 266.50h13.00v1.30h-13.00zM227.50 267.80h14.30v1.30h-14.30zM227.50 269.10h14.30v1.30h-14.30zM226.20 270.40h15.60v1.30h-15.60zM226.20 271.70h15.60v1.30h-15.60zM224.90 273.00h16.90v1.30h-16.90zM226.20 274.30h15.60v1.30h-15.60zM226.20 275.60h15.60v1.30h-15.60zM226.20 276.90h14.30v1.30h-14.30zM226.20 278.20h14.30v1.30h-14.30zM228.80 279.50h10.40v1.30h-10.40zM230.10 280.80h7.80v1.30h-7.80zM230.10 282.10h3.90v1.30h-3.90z" fill="url(#b52)"/>
<rect x="226.70" y="264.80" width="16.00" height="18.00" fill="url(#b52s0)" clip-path="url(#cb52)"/>
<rect x="237.00" y="252.00" width="8.00" height="12.00" fill="url(#b52s1)" clip-path="url(#cb52)"/>
<path d="M240.50 253.50h1.30v1.30h-1.30zM241.80 254.80h2.60v1.30h-2.60zM237.90 256.10h2.60v1.30h-2.60zM241.80 257.40h1.30v1.30h-1.30zM237.90 258.70h1.30v1.30h-1.30zM240.50 258.70h1.30v1.30h-1.30zM240.50 260.00h1.30v1.30h-1.30zM235.30 261.30h1.30v1.30h-1.30zM240.50 261.30h1.30v1.30h-1.30zM235.30 262.60h1.30v1.30h-1.30zM239.20 262.60h1.30v1.30h-1.30zM234.00 263.90h1.30v1.30h-1.30zM240.50 263.90h1.30v1.30h-1.30zM239.20 265.20h1.30v1.30h-1.30zM228.80 266.50h2.60v1.30h-2.60zM227.50 267.80h1.30v1.30h-1.30zM240.50 267.80h1.30v1.30h-1.30zM240.50 270.40h1.30v1.30h-1.30zM226.20 271.70h1.30v1.30h-1.30zM226.20 274.30h1.30v1.30h-1.30zM226.20 275.60h1.30v1.30h-1.30zM227.50 278.20h1.30v1.30h-1.30zM239.20 278.20h1.30v1.30h-1.30zM230.10 280.80h1.30v1.30h-1.30zM236.60 280.80h1.30v1.30h-1.30zM230.10 282.10h1.30v1.30h-1.30zM232.70 282.10h1.30v1.30h-1.30z" fill="#e60000"/>
<path d="M200.20 275.60h1.30v1.30h-1.30zM197.60 276.90h9.10v1.30h-9.10zM197.60 278.20h10.40v1.30h-10.40zM197.60 279.50h11.70v1.30h-11.70zM197.60 280.80h13.00v1.30h-13.00zM198.90 282.10h11.70v1.30h-11.70zM201.50 283.40h10.40v1.30h-10.40zM200.20 284.70h13.00v1.30h-13.00zM202.80 286.00h10.40v1.30h-10.40zM204.10 287.30h9.10v1.30h-9.10zM204.10 288.60h6.50v1.30h-6.50z" fill="url(#b53)"/>
<path d="M200.20 275.60h1.30v1.30h-1.30zM198.90 276.90h1.30v1.30h-1.30zM201.50 276.90h1.30v1.30h-1.30zM204.10 276.90h2.60v1.30h-2.60zM197.60 279.50h1.30v1.30h-1.30zM209.30 280.80h1.30v1.30h-1.30zM198.90 282.10h1.30v1.30h-1.30zM209.30 282.10h1.30v1.30h-1.30zM210.60 283.40h1.30v1.30h-1.30zM211.90 284.70h1.30v1.30h-1.30zM210.60 287.30h1.30v1.30h-1.30zM205.40 288.60h1.30v1.30h-1.30zM209.30 288.60h1.30v1.30h-1.30z" fill="#e60000"/>
<path d="M226.20 301.60h1.30v1.30h-1.30zM223.60 302.90h6.50v1.30h-6.50zM221.00 304.20h9.10v1.30h-9.10zM221.00 305.50h10.40v1.30h-10.40zM221.00 306.80h10.40v1.30h-10.40zM221.00 308.10h10.40v1.30h-10.40zM221.00 309.40h10.40v1.30h-10.40zM222.30 310.70h9.10v1.30h-9.10zM221.00 312.00h10.40v1.30h-10.40zM222.30 313.30h6.50v1.30h-6.50zM223.60 314.60h1.30v1.30h-1.30zM227.50 314.60h1.30v1.30h-1.30z" fill="url(#b54)"/>
<path d="M226.20 301.60h1.30v1.30h-1.30zM223.60 302.90h1.30v1.30h-1.30zM227.50 302.90h1.30v1.30h-1.30zM222.30 304.20h1.30v1.30h-1.30zM228.80 304.20h1.30v1.30h-1.30zM230.10 305.50h1.30v1.30h-1.30zM221.00 306.80h1.30v1.30h-1.30zM230.10 306.80h1.30v1.30h-1.30zM230.10 308.10h1.30v1.30h-1.30zM230.10 309.40h1.30v1.30h-1.30zM230.10 312.00h1.30v1.30h-1.30zM222.30 313.30h1.30v1.30h-1.30zM227.50 313.30h1.30v1.30h-1.30zM223.60 314.60h1.30v1.30h-1.30zM227.50 314.60h1.30v1.30h-1.30z" fill="#e60000"/>
<path d="M318.50 261.30h2.60v1.30h-2.60zM315.90 262.60h9.10v1.30h-9.10zM313.30 263.90h13.00v1.30h-13.00zM309.40 265.20h16.90v1.30h-16.90zM305.50 266.50h20.80v1.30h-20.80zM302.90 267.80h24.70v1.30h-24.70zM300.30 269.10h27.30v1.30h-27.30zM293.80 270.40h1.30v1.30h-1.30zM296.40 270.40h31.20v1.30h-31.20zM291.20 271.70h37.70v1.30h-37.70zM288.60 273.00h39.00v1.30h-39.00zM286.00 274.30h41.60v1.30h-41.60zM286.00 275.60h41.60v1.30h-41.60zM284.70 276.90h42.90v1.30h-42.90zM284.70 278.20h42.90v1.30h-42.90zM284.70 279.50h41.60v1.30h-41.60zM286.00 280.80h40.30v1.30h-40.30zM286.00 282.10h40.30v1.30h-40.30zM287.30 283.40h37.70v1.30h-37.70zM287.30 284.70h37.70v1.30h-37.70zM288.60 286.00h35.10v1.30h-35.10zM289.90 287.30h32.50v1.30h-32.50zM291.20 288.60h29.90v1.30h-29.90zM291.20 289.90h29.90v1.30h-29.90zM292.50 291.20h27.30v1.30h-27.30zM295.10 292.50h24.70v1.30h-24.70zM295.10 293.80h23.40v1.30h-23.40zM296.40 295.10h20.80v1.30h-20.80zM297.70 296.40h19.50v1.30h-19.50zM299.00 297.70h18.20v1.30h-18.20zM300.30 299.00h14.30v1.30h-14.30zM302.90 300.30h13.00v1.30h-13.00zM304.20 301.60h10.40v1.30h-10.40zM304.20 302.90h10.40v1.30h-10.40zM306.80 304.20h7.80v1.30h-7.80zM308.10 305.50h5.20v1.30h-5.20zM309.40 306.80h3.90v1.30h-3.90zM309.40 308.10h2.60v1.30h-2.60z" fill="url(#b55)"/>
<rect x="295.00" y="263.00" width="32.00" height="32.00" fill="url(#b55s0)" clip-path="url(#cb55)"/>
<rect x="311.00" y="261.00" width="16.00" height="16.00" fill="url(#b55s1)" clip-path="url(#cb55)"/>
<path d="M318.50 261.30h2.60v1.30h-2.60zM315.90 262.60h1.30v1.30h-1.30zM321.10 262.60h1.30v1.30h-1.30zM313.30 263.90h2.60v1.30h-2.60zM325.00 263.90h1.30v1.30h-1.30zM312.00 265.20h1.30v1.30h-1.30zM325.00 265.20h1.30v1.30h-1.30zM305.50 266.50h1.30v1.30h-1.30zM325.00 266.50h1.30v1.30h-1.30zM302.90 267.80h1.30v1.30h-1.30zM301.60 269.10h1.30v1.30h-1.30zM297.70 270.40h2.60v1.30h-2.60zM326.30 270.40h1.30v1.30h-1.30zM291.20 271.70h2.60v1.30h-2.60zM288.60 273.00h1.30v1.30h-1.30zM326.30 274.30h1.30v1.30h-1.30zM286.00 275.60h1.30v1.30h-1.30zM326.30 275.60h1.30v1.30h-1.30zM284.70 276.90h1.30v1.30h-1.30zM326.30 276.90h1.30v1.30h-1.30zM284.70 279.50h1.30v1.30h-1.30zM325.00 279.50h1.30v1.30h-1.30zM325.00 280.80h1.30v1.30h-1.30zM323.70 283.40h1.30v1.30h-1.30zM288.60 286.00h1.30v1.30h-1.30zM289.90 287.30h1.30v1.30h-1.30zM321.10 287.30h1.30v1.30h-1.30zM291.20 288.60h1.30v1.30h-1.30zM292.50 291.20h2.60v1.30h-2.60zM295.10 292.50h1.30v1.30h-1.30zM318.50 292.50h1.30v1.30h-1.30zM317.20 293.80h1.30v1.30h-1.30zM296.40 295.10h1.30v1.30h-1.30zM297.70 296.40h1.30v1.30h-1.30zM315.90 296.40h1.30v1.30h-1.30zM314.60 297.70h1.30v1.30h-1.30zM301.60 299.00h1.30v1.30h-1.30zM313.30 299.00h1.30v1.30h-1.30zM302.90 300.30h1.30v1.30h-1.30zM314.60 300.30h1.30v1.30h-1.30zM304.20 301.60h1.30v1.30h-1.30zM304.20 302.90h1.30v1.30h-1.30zM313.30 302.90h1.30v1.30h-1.30zM309.40 306.80h1.30v1.30h-1.30zM312.00 306.80h1.30v1.30h-1.30z" fill="#e60000"/>
<path d="M48.10 360.10h3.90v1.30h-3.90zM48.10 361.40h3.90v1.30h-3.90zM48.10 362.70h3.90v1.30h-3.90zM48.10 364.00h3.90v1.30h-3.90z" fill="url(#b56)"/>
<path d="M48.10 360.10h3.90v1.30h-3.90zM50.70 361.40h1.30v1.30h-1.30zM48.10 362.70h1.30v1.30h-1.30zM50.70 364.00h1.30v1.30h-1.30z" fill="#e60000"/>
<path d="M79.30 353.60h1.30v1.30h-1.30zM79.30 354.90h2.60v1.30h-2.60zM79.30 356.20h3.90v1.30h-3.90zM80.60 357.50h3.90v1.30h-3.90z" fill="url(#b57)"/>
<path d="M79.30 353.60h1.30v1.30h-1.30zM79.30 354.90h1.30v1.30h-1.30zM81.90 356.20h1.30v1.30h-1.30zM80.60 357.50h2.60v1.30h-2.60z" fill="#e60000"/>
<path d="M54.60 373.10h1.30v1.30h-1.30zM52.00 374.40h5.20v1.30h-5.20zM50.70 375.70h9.10v1.30h-9.10zM50.70 377.00h9.10v1.30h-9.10zM50.70 378.30h9.10v1.30h-9.10zM49.40 379.60h10.40v1.30h-10.40zM50.70 380.90h9.10v1.30h-9.10zM50.70 382.20h7.80v1.30h-7.80zM53.30 383.50h5.20v1.30h-5.20zM53.30 384.80h3.90v1.30h-3.90z" fill="url(#b58)"/>
<path d="M54.60 373.10h1.30v1.30h-1.30zM52.00 374.40h1.30v1.30h-1.30zM55.90 374.40h1.30v1.30h-1.30zM50.70 375.70h1.30v1.30h-1.30zM57.20 375.70h1.30v1.30h-1.30zM50.70 377.00h1.30v1.30h-1.30zM49.40 379.60h1.30v1.30h-1.30zM50.70 380.90h1.30v1.30h-1.30zM53.30 383.50h1.30v1.30h-1.30zM57.20 383.50h1.30v1.30h-1.30zM53.30 384.80h2.60v1.30h-2.60z" fill="#e60000"/>
<path d="M71.50 370.50h3.90v1.30h-3.90zM71.50 371.80h3.90v1.30h-3.90zM71.50 373.10h3.90v1.30h-3.90zM72.80 374.40h2.60v1.30h-2.60zM71.50 375.70h3.90v1.30h-3.90z" fill="url(#b59)"/>
<path d="M71.50 370.50h3.90v1.30h-3.90zM74.10 371.80h1.30v1.30h-1.30zM72.80 374.40h2.60v1.30h-2.60zM71.50 375.70h1.30v1.30h-1.30z" fill="#e60000"/>
<path d="M72.80 379.60h2.60v1.30h-2.60zM72.80 380.90h3.90v1.30h-3.90zM72.80 382.20h3.90v1.30h-3.90zM72.80 383.50h3.90v1.30h-3.90zM72.80 384.80h2.60v1.30h-2.60zM74.10 386.10h2.60v1.30h-2.60z" fill="url(#b60)"/>
<path d="M72.80 379.60h2.60v1.30h-2.60zM72.80 380.90h1.30v1.30h-1.30zM75.40 380.90h1.30v1.30h-1.30zM72.80 382.20h1.30v1.30h-1.30zM72.80 383.50h1.30v1.30h-1.30zM74.10 384.80h1.30v1.30h-1.30zM74.10 386.10h2.60v1.30h-2.60z" fill="#e60000"/>
<path d="M33.80 379.60h1.30v1.30h-1.30zM32.50 380.90h2.60v1.30h-2.60zM32.50 382.20h3.90v1.30h-3.90zM32.50 383.50h3.90v1.30h-3.90zM31.20 384.80h3.90v1.30h-3.90zM31.20 386.10h3.90v1.30h-3.90zM29.90 387.40h5.20v1.30h-5.20zM29.90 388.70h2.60v1.30h-2.60z" fill="url(#b61)"/>
<path d="M32.50 380.90h1.30v1.30h-1.30zM32.50 382.20h1.30v1.30h-1.30zM35.10 383.50h1.30v1.30h-1.30zM33.80 386.10h1.30v1.30h-1.30zM29.90 387.40h1.30v1.30h-1.30zM32.50 387.40h2.60v1.30h-2.60zM29.90 388.70h1.30v1.30h-1.30z" fill="#e60000"/>
<path d="M44.20 396.50h1.30v1.30h-1.30zM46.80 396.50h1.30v1.30h-1.30zM42.90 397.80h5.20v1.30h-5.20zM42.90 399.10h5.20v1.30h-5.20zM42.90 400.40h5.20v1.30h-5.20zM42.90 401.70h3.90v1.30h-3.90z" fill="url(#b62)"/>
<path d="M44.20 396.50h1.30v1.30h-1.30zM46.80 396.50h1.30v1.30h-1.30zM42.90 397.80h1.30v1.30h-1.30zM46.80 397.80h1.30v1.30h-1.30zM42.90 399.10h1.30v1.30h-1.30zM46.80 399.10h1.30v1.30h-1.30zM42.90 400.40h1.30v1.30h-1.30zM46.80 400.40h1.30v1.30h-1.30zM42.90 401.70h3.90v1.30h-3.90z" fill="#e60000"/>
<path d="M62.40 397.80h2.60v1.30h-2.60zM62.40 399.10h2.60v1.30h-2.60z" fill="url(#b63)"/>
<path d="M62.40 397.80h1.30v1.30h-1.30zM62.40 399.10h2.60v1.30h-2.60z" fill="#e60000"/>
<path d="M52.00 410.80h1.30v1.30h-1.30zM54.60 410.80h3.90v1.30h-3.90zM49.40 412.10h10.40v1.30h-10.40zM49.40 413.40h10.40v1.30h-10.40zM50.70 414.70h1.30v1.30h-1.30z" fill="url(#b64)"/>
<path d="M54.60 410.80h3.90v1.30h-3.90zM53.30 412.10h1.30v1.30h-1.30zM52.00 413.40h3.90v1.30h-3.90zM57.20 413.40h2.60v1.30h-2.60z" fill="#e60000"/>
<path d="M133.90 358.80h1.30v1.30h-1.30zM132.60 360.10h3.90v1.30h-3.90zM130.00 361.40h6.50v1.30h-6.50zM130.00 362.70h6.50v1.30h-6.50zM130.00 364.00h6.50v1.30h-6.50zM130.00 365.30h6.50v1.30h-6.50zM130.00 366.60h6.50v1.30h-6.50zM130.00 367.90h7.80v1.30h-7.80zM131.30 369.20h6.50v1.30h-6.50zM130.00 370.50h1.30v1.30h-1.30zM135.20 370.50h1.30v1.30h-1.30z" fill="url(#b65)"/>
<path d="M133.90 358.80h1.30v1.30h-1.30zM132.60 360.10h1.30v1.30h-1.30zM130.00 361.40h2.60v1.30h-2.60zM135.20 361.40h1.30v1.30h-1.30zM130.00 362.70h1.30v1.30h-1.30zM135.20 362.70h1.30v1.30h-1.30zM130.00 364.00h1.30v1.30h-1.30zM135.20 364.00h1.30v1.30h-1.30zM130.00 367.90h1.30v1.30h-1.30zM133.90 369.20h1.30v1.30h-1.30zM136.50 369.20h1.30v1.30h-1.30zM130.00 370.50h1.30v1.30h-1.30zM135.20 370.50h1.30v1.30h-1.30z" fill="#e60000"/>
<path d="M156.00 370.50h2.60v1.30h-2.60zM156.00 371.80h2.60v1.30h-2.60zM154.70 373.10h5.20v1.30h-5.20zM154.70 374.40h6.50v1.30h-6.50zM153.40 375.70h7.80v1.30h-7.80zM153.40 377.00h7.80v1.30h-7.80zM154.70 378.30h6.50v1.30h-6.50zM154.70 379.60h6.50v1.30h-6.50zM153.40 380.90h7.80v1.30h-7.80zM156.00 382.20h6.50v1.30h-6.50zM157.30 383.50h5.20v1.30h-5.20zM157.30 384.80h3.90v1.30h-3.90zM158.60 386.10h2.60v1.30h-2.60z" fill="url(#b66)"/>
<path d="M158.60 373.10h1.30v1.30h-1.30zM154.70 374.40h1.30v1.30h-1.30zM159.90 374.40h1.30v1.30h-1.30zM159.90 375.70h1.30v1.30h-1.30zM153.40 377.00h1.30v1.30h-1.30zM154.70 379.60h1.30v1.30h-1.30zM154.70 380.90h1.30v1.30h-1.30zM159.90 380.90h1.30v1.30h-1.30zM161.20 382.20h1.30v1.30h-1.30zM161.20 383.50h1.30v1.30h-1.30zM159.90 384.80h1.30v1.30h-1.30zM158.60 386.10h2.60v1.30h-2.60z" fill="#e60000"/>
<path d="M113.10 380.90h2.60v1.30h-2.60zM113.10 382.20h2.60v1.30h-2.60zM114.40 383.50h2.60v1.30h-2.60zM114.40 384.80h2.60v1.30h-2.60zM114.40 386.10h2.60v1.30h-2.60z" fill="url(#b67)"/>
<path d="M114.40 380.90h1.30v1.30h-1.30zM114.40 382.20h1.30v1.30h-1.30zM115.70 383.50h1.30v1.30h-1.30zM115.70 384.80h1.30v1.30h-1.30zM115.70 386.10h1.30v1.30h-1.30z" fill="#e60000"/>
<path d="M172.90 365.30h1.30v1.30h-1.30zM172.90 366.60h1.30v1.30h-1.30zM171.60 367.90h3.90v1.30h-3.90zM172.90 369.20h2.60v1.30h-2.60zM172.90 370.50h2.60v1.30h-2.60zM174.20 371.80h1.30v1.30h-1.30z" fill="url(#b68)"/>
<path d="M172.90 365.30h1.30v1.30h-1.30zM172.90 366.60h1.30v1.30h-1.30zM174.20 369.20h1.30v1.30h-1.30zM172.90 370.50h2.60v1.30h-2.60zM174.20 371.80h1.30v1.30h-1.30z" fill="#e60000"/>
<path d="M223.60 353.60h2.60v1.30h-2.60zM227.50 353.60h1.30v1.30h-1.30zM218.40 354.90h11.70v1.30h-11.70zM215.80 356.20h13.00v1.30h-13.00zM215.80 357.50h14.30v1.30h-14.30zM215.80 358.80h14.30v1.30h-14.30zM214.50 360.10h14.30v1.30h-14.30zM215.80 361.40h11.70v1.30h-11.70zM215.80 362.70h10.40v1.30h-10.40zM214.50 364.00h11.70v1.30h-11.70zM214.50 365.30h11.70v1.30h-11.70zM214.50 366.60h11.70v1.30h-11.70zM217.10 367.90h7.80v1.30h-7.80zM217.10 369.20h6.50v1.30h-6.50zM217.10 370.50h5.20v1.30h-5.20zM219.70 371.80h1.30v1.30h-1.30z" fill="url(#b69)"/>
<path d="M224.90 353.60h1.30v1.30h-1.30zM227.50 353.60h1.30v1.30h-1.30zM222.30 354.90h1.30v1.30h-1.30zM226.20 354.90h1.30v1.30h-1.30zM228.80 354.90h1.30v1.30h-1.30zM215.80 356.20h2.60v1.30h-2.60zM215.80 357.50h1.30v1.30h-1.30zM228.80 357.50h1.30v1.30h-1.30zM228.80 358.80h1.30v1.30h-1.30zM227.50 360.10h1.30v1.30h-1.30zM226.20 361.40h1.30v1.30h-1.30zM214.50 364.00h1.30v1.30h-1.30zM224.90 365.30h1.30v1.30h-1.30zM215.80 366.60h1.30v1.30h-1.30zM222.30 369.20h1.30v1.30h-1.30zM218.40 370.50h1.30v1.30h-1.30zM221.00 370.50h1.30v1.30h-1.30z" fill="#e60000"/>
<path d="M196.30 375.70h1.30v1.30h-1.30zM192.40 377.00h7.80v1.30h-7.80zM193.70 378.30h7.80v1.30h-7.80zM193.70 379.60h7.80v1.30h-7.80zM195.00 380.90h7.80v1.30h-7.80zM193.70 382.20h9.10v1.30h-9.10zM195.00 383.50h7.80v1.30h-7.80zM196.30 384.80h5.20v1.30h-5.20z" fill="url(#b70)"/>
<path d="M193.70 377.00h1.30v1.30h-1.30zM197.60 377.00h1.30v1.30h-1.30zM193.70 378.30h1.30v1.30h-1.30zM200.20 378.30h1.30v1.30h-1.30zM193.70 379.60h1.30v1.30h-1.30zM200.20 379.60h1.30v1.30h-1.30zM195.00 383.50h1.30v1.30h-1.30zM197.60 384.80h3.90v1.30h-3.90z" fill="#e60000"/>
<path d="M243.10 375.70h2.60v1.30h-2.60zM240.50 377.00h7.80v1.30h-7.80zM240.50 378.30h7.80v1.30h-7.80zM237.90 379.60h10.40v1.30h-10.40zM240.50 380.90h6.50v1.30h-6.50zM240.50 382.20h7.80v1.30h-7.80zM241.80 383.50h6.50v1.30h-6.50zM241.80 384.80h6.50v1.30h-6.50zM243.10 386.10h3.90v1.30h-3.90z" fill="url(#b71)"/>
<path d="M241.80 377.00h1.30v1.30h-1.30zM247.00 378.30h1.30v1.30h-1.30zM247.00 379.60h1.30v1.30h-1.30zM240.50 382.20h1.30v1.30h-1.30zM241.80 383.50h1.30v1.30h-1.30zM247.00 383.50h1.30v1.30h-1.30zM241.80 384.80h1.30v1.30h-1.30zM247.00 384.80h1.30v1.30h-1.30zM245.70 386.10h1.30v1.30h-1.30z" fill="#e60000"/>
<path d="M221.00 390.00h1.30v1.30h-1.30zM218.40 391.30h5.20v1.30h-5.20zM218.40 392.60h3.90v1.30h-3.90zM218.40 393.90h5.20v1.30h-5.20zM217.10 395.20h5.20v1.30h-5.20zM218.40 396.50h3.90v1.30h-3.90zM217.10 397.80h6.50v1.30h-6.50zM218.40 399.10h5.20v1.30h-5.20zM218.40 400.40h5.20v1.30h-5.20zM218.40 401.70h5.20v1.30h-5.20zM218.40 403.00h5.20v1.30h-5.20zM218.40 404.30h6.50v1.30h-6.50zM218.40 405.60h5.20v1.30h-5.20zM218.40 406.90h3.90v1.30h-3.90z" fill="url(#b72)"/>
<path d="M221.00 392.60h1.30v1.30h-1.30zM218.40 393.90h1.30v1.30h-1.30zM222.30 393.90h1.30v1.30h-1.30zM218.40 396.50h1.30v1.30h-1.30zM221.00 396.50h1.30v1.30h-1.30zM222.30 397.80h1.30v1.30h-1.30zM222.30 399.10h1.30v1.30h-1.30zM222.30 400.40h1.30v1.30h-1.30zM222.30 403.00h1.30v1.30h-1.30zM218.40 404.30h1.30v1.30h-1.30zM218.40 405.60h1.30v1.30h-1.30zM218.40 406.90h3.90v1.30h-3.90z" fill="#e60000"/>
<path d="M300.30 357.50h6.50v1.30h-6.50zM300.30 358.80h7.80v1.30h-7.80zM296.40 360.10h11.70v1.30h-11.70zM309.40 360.10h1.30v1.30h-1.30zM296.40 361.40h15.60v1.30h-15.60zM296.40 362.70h16.90v1.30h-16.90zM295.10 364.00h18.20v1.30h-18.20zM293.80 365.30h19.50v1.30h-19.50zM293.80 366.60h19.50v1.30h-19.50zM292.50 367.90h22.10v1.30h-22.10zM292.50 369.20h23.40v1.30h-23.40zM291.20 370.50h24.70v1.30h-24.70zM292.50 371.80h24.70v1.30h-24.70zM291.20 373.10h26.00v1.30h-26.00zM291.20 374.40h27.30v1.30h-27.30zM291.20 375.70h27.30v1.30h-27.30zM288.60 377.00h31.20v1.30h-31.20zM288.60 378.30h31.20v1.30h-31.20zM287.30 379.60h32.50v1.30h-32.50zM286.00 380.90h33.80v1.30h-33.80zM287.30 382.20h32.50v1.30h-32.50zM288.60 383.50h31.20v1.30h-31.20zM288.60 384.80h29.90v1.30h-29.90zM291.20 386.10h27.30v1.30h-27.30zM291.20 387.40h27.30v1.30h-27.30zM291.20 388.70h27.30v1.30h-27.30zM292.50 390.00h26.00v1.30h-26.00zM292.50 391.30h26.00v1.30h-26.00zM293.80 392.60h23.40v1.30h-23.40zM293.80 393.90h22.10v1.30h-22.10zM295.10 395.20h22.10v1.30h-22.10zM295.10 396.50h19.50v1.30h-19.50zM295.10 397.80h18.20v1.30h-18.20zM296.40 399.10h15.60v1.30h-15.60zM297.70 400.40h14.30v1.30h-14.30zM297.70 401.70h11.70v1.30h-11.70zM299.00 403.00h7.80v1.30h-7.80zM300.30 404.30h1.30v1.30h-1.30zM302.90 404.30h2.60v1.30h-2.60z" fill="url(#b73)"/>
<rect x="291.00" y="362.00" width="26.00" height="38.00" fill="url(#b73s0)" clip-path="url(#cb73)"/>
<path d="M304.20 357.50h2.60v1.30h-2.60zM300.30 358.80h1.30v1.30h-1.30zM306.80 358.80h1.30v1.30h-1.30zM297.70 360.10h1.30v1.30h-1.30zM306.80 360.10h1.30v1.30h-1.30zM296.40 361.40h1.30v1.30h-1.30zM308.10 361.40h1.30v1.30h-1.30zM310.70 361.40h1.30v1.30h-1.30zM295.10 364.00h1.30v1.30h-1.30zM312.00 364.00h1.30v1.30h-1.30zM293.80 365.30h1.30v1.30h-1.30zM312.00 366.60h1.30v1.30h-1.30zM313.30 367.90h1.30v1.30h-1.30zM314.60 369.20h1.30v1.30h-1.30zM291.20 370.50h1.30v1.30h-1.30zM314.60 370.50h1.30v1.30h-1.30zM315.90 371.80h1.30v1.30h-1.30zM315.90 373.10h1.30v1.30h-1.30zM317.20 374.40h1.30v1.30h-1.30zM291.20 375.70h1.30v1.30h-1.30zM288.60 377.00h1.30v1.30h-1.30zM318.50 377.00h1.30v1.30h-1.30zM288.60 378.30h1.30v1.30h-1.30zM318.50 378.30h1.30v1.30h-1.30zM318.50 383.50h1.30v1.30h-1.30zM291.20 386.10h1.30v1.30h-1.30zM291.20 387.40h1.30v1.30h-1.30zM317.20 388.70h1.30v1.30h-1.30zM317.20 390.00h1.30v1.30h-1.30zM292.50 391.30h1.30v1.30h-1.30zM293.80 392.60h1.30v1.30h-1.30zM315.90 392.60h1.30v1.30h-1.30zM293.80 393.90h1.30v1.30h-1.30zM314.60 393.90h1.30v1.30h-1.30zM295.10 395.20h1.30v1.30h-1.30zM314.60 395.20h1.30v1.30h-1.30zM295.10 396.50h1.30v1.30h-1.30zM313.30 396.50h1.30v1.30h-1.30zM312.00 397.80h1.30v1.30h-1.30zM309.40 400.40h1.30v1.30h-1.30zM306.80 401.70h2.60v1.30h-2.60zM299.00 403.00h1.30v1.30h-1.30zM301.60 403.00h1.30v1.30h-1.30zM305.50 403.00h1.30v1.30h-1.30zM300.30 404.30h1.30v1.30h-1.30z" fill="#e60000"/>
<text x="358.6" y="17.8" font-family="Liberation Serif" font-size="18" font-weight="bold" textLength="23.4" lengthAdjust="spacingAndGlyphs" >(b)</text>
<rect x="477.2" y="15.5" width="115.09999999999997" height="103.5" fill="#c9ecea"/>
<rect x="495.0" y="119.0" width="42.299999999999955" height="100.0" fill="#c9ecea"/>
<rect x="511.2" y="219.0" width="15.099999999999966" height="100.0" fill="#c9ecea"/>
<rect x="505.5" y="319.0" width="16.299999999999955" height="100.60000000000002" fill="#c9ecea"/>
<path d="M423.00,74.00 L439.99,42.50 L449.93,69.50 L456.98,83.00 L462.45,92.00 L466.91,96.50 L470.69,101.00 L473.96,110.00 L476.85,114.50 L479.43,114.50 L496.42,114.50 L506.36,114.50 L513.41,114.50 L518.88,114.50 L523.35,114.50 L527.13,114.50 L530.40,114.50 L533.28,114.50 L535.87,114.50 L552.85,114.50 L562.79,114.50 L569.84,114.50 L575.31,114.50 L579.78,114.50 L583.56,114.50 L586.83,114.50 L589.72,114.50 L592.30,114.50" fill="none" stroke="#000" stroke-width="1.6" stroke-dasharray="2.2 3"/>
<circle cx="423.00" cy="74.00" r="2.4" fill="#000"/>
<circle cx="439.99" cy="42.50" r="2.4" fill="#000"/>
<circle cx="449.93" cy="69.50" r="2.4" fill="#000"/>
<circle cx="456.98" cy="83.00" r="2.4" fill="#000"/>
<circle cx="462.45" cy="92.00" r="2.4" fill="#000"/>
<circle cx="466.91" cy="96.50" r="2.4" fill="#000"/>
<circle cx="470.69" cy="101.00" r="2.4" fill="#000"/>
<circle cx="473.96" cy="110.00" r="2.4" fill="#000"/>
<circle cx="476.85" cy="114.50" r="2.4" fill="#000"/>
<circle cx="479.43" cy="114.50" r="2.4" fill="#000"/>
<circle cx="496.42" cy="114.50" r="2.4" fill="#000"/>
<circle cx="506.36" cy="114.50" r="2.4" fill="#000"/>
<circle cx="513.41" cy="114.50" r="2.4" fill="#000"/>
<circle cx="518.88" cy="114.50" r="2.4" fill="#000"/>
<circle cx="523.35" cy="114.50" r="2.4" fill="#000"/>
<circle cx="527.13" cy="114.50" r="2.4" fill="#000"/>
<circle cx="530.40" cy="114.50" r="2.4" fill="#000"/>
<circle cx="533.28" cy="114.50" r="2.4" fill="#000"/>
<circle cx="535.87" cy="114.50" r="2.4" fill="#000"/>
<circle cx="552.85" cy="114.50" r="2.4" fill="#000"/>
<circle cx="562.79" cy="114.50" r="2.4" fill="#000"/>
<circle cx="569.84" cy="114.50" r="2.4" fill="#000"/>
<circle cx="575.31" cy="114.50" r="2.4" fill="#000"/>
<circle cx="579.78" cy="114.50" r="2.4" fill="#000"/>
<circle cx="583.56" cy="114.50" r="2.4" fill="#000"/>
<circle cx="586.83" cy="114.50" r="2.4" fill="#000"/>
<circle cx="589.72" cy="114.50" r="2.4" fill="#000"/>
<circle cx="592.30" cy="114.50" r="2.4" fill="#000"/>
<path d="M423.00,179.00 L439.99,172.33 L449.93,165.67 L456.98,159.00 L462.45,152.33 L466.91,152.33 L470.69,165.67 L473.96,165.67 L476.85,165.67 L479.43,179.00 L496.42,205.67 L506.36,205.67 L513.41,205.67 L518.88,205.67 L523.35,205.67 L527.13,205.67 L530.40,205.67 L533.28,205.67 L535.87,205.67 L552.85,212.33 L562.79,212.33 L569.84,212.33 L575.31,212.33 L579.78,212.33 L583.56,212.33 L586.83,212.33 L589.72,212.33 L592.30,212.33" fill="none" stroke="#000" stroke-width="1.6" stroke-dasharray="2.2 3"/>
<circle cx="423.00" cy="179.00" r="2.4" fill="#000"/>
<circle cx="439.99" cy="172.33" r="2.4" fill="#000"/>
<circle cx="449.93" cy="165.67" r="2.4" fill="#000"/>
<circle cx="456.98" cy="159.00" r="2.4" fill="#000"/>
<circle cx="462.45" cy="152.33" r="2.4" fill="#000"/>
<circle cx="466.91" cy="152.33" r="2.4" fill="#000"/>
<circle cx="470.69" cy="165.67" r="2.4" fill="#000"/>
<circle cx="473.96" cy="165.67" r="2.4" fill="#000"/>
<circle cx="476.85" cy="165.67" r="2.4" fill="#000"/>
<circle cx="479.43" cy="179.00" r="2.4" fill="#000"/>
<circle cx="496.42" cy="205.67" r="2.4" fill="#000"/>
<circle cx="506.36" cy="205.67" r="2.4" fill="#000"/>
<circle cx="513.41" cy="205.67" r="2.4" fill="#000"/>
<circle cx="518.88" cy="205.67" r="2.4" fill="#000"/>
<circle cx="523.35" cy="205.67" r="2.4" fill="#000"/>
<circle cx="527.13" cy="205.67" r="2.4" fill="#000"/>
<circle cx="530.40" cy="205.67" r="2.4" fill="#000"/>
<circle cx="533.28" cy="205.67" r="2.4" fill="#000"/>
<circle cx="535.87" cy="205.67" r="2.4" fill="#000"/>
<circle cx="552.85" cy="212.33" r="2.4" fill="#000"/>
<circle cx="562.79" cy="212.33" r="2.4" fill="#000"/>
<circle cx="569.84" cy="212.33" r="2.4" fill="#000"/>
<circle cx="575.31" cy="212.33" r="2.4" fill="#000"/>
<circle cx="579.78" cy="212.33" r="2.4" fill="#000"/>
<circle cx="583.56" cy="212.33" r="2.4" fill="#000"/>
<circle cx="586.83" cy="212.33" r="2.4" fill="#000"/>
<circle cx="589.72" cy="212.33" r="2.4" fill="#000"/>
<circle cx="592.30" cy="212.33" r="2.4" fill="#000"/>
<path d="M423.00,239.00 L439.99,259.00 L449.93,272.33 L456.98,272.33 L462.45,279.00 L466.91,279.00 L470.69,272.33 L473.96,279.00 L476.85,279.00 L479.43,285.67 L496.42,292.33 L506.36,292.33 L513.41,299.00 L518.88,299.00 L523.35,299.00 L527.13,305.67 L530.40,305.67 L533.28,305.67 L535.87,305.67 L552.85,312.33 L562.79,312.33 L569.84,312.33 L575.31,312.33 L579.78,312.33 L583.56,312.33 L586.83,312.33 L589.72,312.33 L592.30,312.33" fill="none" stroke="#000" stroke-width="1.6" stroke-dasharray="2.2 3"/>
<circle cx="423.00" cy="239.00" r="2.4" fill="#000"/>
<circle cx="439.99" cy="259.00" r="2.4" fill="#000"/>
<circle cx="449.93" cy="272.33" r="2.4" fill="#000"/>
<circle cx="456.98" cy="272.33" r="2.4" fill="#000"/>
<circle cx="462.45" cy="279.00" r="2.4" fill="#000"/>
<circle cx="466.91" cy="279.00" r="2.4" fill="#000"/>
<circle cx="470.69" cy="272.33" r="2.4" fill="#000"/>
<circle cx="473.96" cy="279.00" r="2.4" fill="#000"/>
<circle cx="476.85" cy="279.00" r="2.4" fill="#000"/>
<circle cx="479.43" cy="285.67" r="2.4" fill="#000"/>
<circle cx="496.42" cy="292.33" r="2.4" fill="#000"/>
<circle cx="506.36" cy="292.33" r="2.4" fill="#000"/>
<circle cx="513.41" cy="299.00" r="2.4" fill="#000"/>
<circle cx="518.88" cy="299.00" r="2.4" fill="#000"/>
<circle cx="523.35" cy="299.00" r="2.4" fill="#000"/>
<circle cx="527.13" cy="305.67" r="2.4" fill="#000"/>
<circle cx="530.40" cy="305.67" r="2.4" fill="#000"/>
<circle cx="533.28" cy="305.67" r="2.4" fill="#000"/>
<circle cx="535.87" cy="305.67" r="2.4" fill="#000"/>
<circle cx="552.85" cy="312.33" r="2.4" fill="#000"/>
<circle cx="562.79" cy="312.33" r="2.4" fill="#000"/>
<circle cx="569.84" cy="312.33" r="2.4" fill="#000"/>
<circle cx="575.31" cy="312.33" r="2.4" fill="#000"/>
<circle cx="579.78" cy="312.33" r="2.4" fill="#000"/>
<circle cx="583.56" cy="312.33" r="2.4" fill="#000"/>
<circle cx="586.83" cy="312.33" r="2.4" fill="#000"/>
<circle cx="589.72" cy="312.33" r="2.4" fill="#000"/>
<circle cx="592.30" cy="312.33" r="2.4" fill="#000"/>
<path d="M423.00,379.36 L439.99,372.65 L449.93,365.95 L456.98,372.65 L462.45,372.65 L466.91,379.36 L470.69,379.36 L473.96,379.36 L476.85,379.36 L479.43,386.07 L496.42,379.36 L506.36,392.77 L513.41,392.77 L518.88,392.77 L523.35,399.48 L527.13,406.19 L530.40,406.19 L533.28,406.19 L535.87,406.19 L552.85,412.89 L562.79,412.89 L569.84,412.89 L575.31,412.89 L579.78,412.89 L583.56,412.89 L586.83,412.89 L589.72,412.89 L592.30,412.89" fill="none" stroke="#000" stroke-width="1.6" stroke-dasharray="2.2 3"/>
<circle cx="423.00" cy="379.36" r="2.4" fill="#000"/>
<circle cx="439.99" cy="372.65" r="2.4" fill="#000"/>
<circle cx="449.93" cy="365.95" r="2.4" fill="#000"/>
<circle cx="456.98" cy="372.65" r="2.4" fill="#000"/>
<circle cx="462.45" cy="372.65" r="2.4" fill="#000"/>
<circle cx="466.91" cy="379.36" r="2.4" fill="#000"/>
<circle cx="470.69" cy="379.36" r="2.4" fill="#000"/>
<circle cx="473.96" cy="379.36" r="2.4" fill="#000"/>
<circle cx="476.85" cy="379.36" r="2.4" fill="#000"/>
<circle cx="479.43" cy="386.07" r="2.4" fill="#000"/>
<circle cx="496.42" cy="379.36" r="2.4" fill="#000"/>
<circle cx="506.36" cy="392.77" r="2.4" fill="#000"/>
<circle cx="513.41" cy="392.77" r="2.4" fill="#000"/>
<circle cx="518.88" cy="392.77" r="2.4" fill="#000"/>
<circle cx="523.35" cy="399.48" r="2.4" fill="#000"/>
<circle cx="527.13" cy="406.19" r="2.4" fill="#000"/>
<circle cx="530.40" cy="406.19" r="2.4" fill="#000"/>
<circle cx="533.28" cy="406.19" r="2.4" fill="#000"/>
<circle cx="535.87" cy="406.19" r="2.4" fill="#000"/>
<circle cx="552.85" cy="412.89" r="2.4" fill="#000"/>
<circle cx="562.79" cy="412.89" r="2.4" fill="#000"/>
<circle cx="569.84" cy="412.89" r="2.4" fill="#000"/>
<circle cx="575.31" cy="412.89" r="2.4" fill="#000"/>
<circle cx="579.78" cy="412.89" r="2.4" fill="#000"/>
<circle cx="583.56" cy="412.89" r="2.4" fill="#000"/>
<circle cx="586.83" cy="412.89" r="2.4" fill="#000"/>
<circle cx="589.72" cy="412.89" r="2.4" fill="#000"/>
<circle cx="592.30" cy="412.89" r="2.4" fill="#000"/>
<line x1="418.0" y1="119.00" x2="423.0" y2="119.00" stroke="#1a1a1a" stroke-width="1.1"/>
<text x="414.7" y="123.10" text-anchor="end" font-family="Liberation Sans" font-size="11">0</text>
<line x1="420.2" y1="114.50" x2="423.0" y2="114.50" stroke="#1a1a1a" stroke-width="1.1"/>
<line x1="420.2" y1="110.00" x2="423.0" y2="110.00" stroke="#1a1a1a" stroke-width="1.1"/>
<line x1="420.2" y1="105.50" x2="423.0" y2="105.50" stroke="#1a1a1a" stroke-width="1.1"/>
<line x1="420.2" y1="101.00" x2="423.0" y2="101.00" stroke="#1a1a1a" stroke-width="1.1"/>
<line x1="418.0" y1="96.50" x2="423.0" y2="96.50" stroke="#1a1a1a" stroke-width="1.1"/>
<text x="414.7" y="100.60" text-anchor="end" font-family="Liberation Sans" font-size="11">5</text>
<line x1="420.2" y1="92.00" x2="423.0" y2="92.00" stroke="#1a1a1a" stroke-width="1.1"/>
<line x1="420.2" y1="87.50" x2="423.0" y2="87.50" stroke="#1a1a1a" stroke-width="1.1"/>
<line x1="420.2" y1="83.00" x2="423.0" y2="83.00" stroke="#1a1a1a" stroke-width="1.1"/>
<line x1="420.2" y1="78.50" x2="423.0" y2="78.50" stroke="#1a1a1a" stroke-width="1.1"/>
<line x1="418.0" y1="74.00" x2="423.0" y2="74.00" stroke="#1a1a1a" stroke-width="1.1"/>
<text x="414.7" y="78.10" text-anchor="end" font-family="Liberation Sans" font-size="11">10</text>
<line x1="420.2" y1="69.50" x2="423.0" y2="69.50" stroke="#1a1a1a" stroke-width="1.1"/>
<line x1="420.2" y1="65.00" x2="423.0" y2="65.00" stroke="#1a1a1a" stroke-width="1.1"/>
<line x1="420.2" y1="60.50" x2="423.0" y2="60.50" stroke="#1a1a1a" stroke-width="1.1"/>
<line x1="420.2" y1="56.00" x2="423.0" y2="56.00" stroke="#1a1a1a" stroke-width="1.1"/>
<line x1="418.0" y1="51.50" x2="423.0" y2="51.50" stroke="#1a1a1a" stroke-width="1.1"/>
<text x="414.7" y="55.60" text-anchor="end" font-family="Liberation Sans" font-size="11">15</text>
<line x1="420.2" y1="47.00" x2="423.0" y2="47.00" stroke="#1a1a1a" stroke-width="1.1"/>
<line x1="420.2" y1="42.50" x2="423.0" y2="42.50" stroke="#1a1a1a" stroke-width="1.1"/>
<line x1="420.2" y1="38.00" x2="423.0" y2="38.00" stroke="#1a1a1a" stroke-width="1.1"/>
<line x1="420.2" y1="33.50" x2="423.0" y2="33.50" stroke="#1a1a1a" stroke-width="1.1"/>
<line x1="418.0" y1="29.00" x2="423.0" y2="29.00" stroke="#1a1a1a" stroke-width="1.1"/>
<text x="414.7" y="33.10" text-anchor="end" font-family="Liberation Sans" font-size="11">20</text>
<line x1="420.2" y1="24.50" x2="423.0" y2="24.50" stroke="#1a1a1a" stroke-width="1.1"/>
<line x1="420.2" y1="20.00" x2="423.0" y2="20.00" stroke="#1a1a1a" stroke-width="1.1"/>
<line x1="420.2" y1="15.50" x2="423.0" y2="15.50" stroke="#1a1a1a" stroke-width="1.1"/>
<line x1="423.00" y1="119.0" x2="423.00" y2="124.2" stroke="#1a1a1a" stroke-width="1.1"/>
<line x1="439.99" y1="119.0" x2="439.99" y2="121.6" stroke="#1a1a1a" stroke-width="1.1"/>
<line x1="449.93" y1="119.0" x2="449.93" y2="121.6" stroke="#1a1a1a" stroke-width="1.1"/>
<line x1="456.98" y1="119.0" x2="456.98" y2="121.6" stroke="#1a1a1a" stroke-width="1.1"/>
<line x1="462.45" y1="119.0" x2="462.45" y2="121.6" stroke="#1a1a1a" stroke-width="1.1"/>
<line x1="466.91" y1="119.0" x2="466.91" y2="121.6" stroke="#1a1a1a" stroke-width="1.1"/>
<line x1="470.69" y1="119.0" x2="470.69" y2="121.6" stroke="#1a1a1a" stroke-width="1.1"/>
<line x1="473.96" y1="119.0" x2="473.96" y2="121.6" stroke="#1a1a1a" stroke-width="1.1"/>
<line x1="476.85" y1="119.0" x2="476.85" y2="121.6" stroke="#1a1a1a" stroke-width="1.1"/>
<line x1="479.43" y1="119.0" x2="479.43" y2="124.2" stroke="#1a1a1a" stroke-width="1.1"/>
<line x1="496.42" y1="119.0" x2="496.42" y2="121.6" stroke="#1a1a1a" stroke-width="1.1"/>
<line x1="506.36" y1="119.0" x2="506.36" y2="121.6" stroke="#1a1a1a" stroke-width="1.1"/>
<line x1="513.41" y1="119.0" x2="513.41" y2="121.6" stroke="#1a1a1a" stroke-width="1.1"/>
<line x1="518.88" y1="119.0" x2="518.88" y2="121.6" stroke="#1a1a1a" stroke-width="1.1"/>
<line x1="523.35" y1="119.0" x2="523.35" y2="121.6" stroke="#1a1a1a" stroke-width="1.1"/>
<line x1="527.13" y1="119.0" x2="527.13" y2="121.6" stroke="#1a1a1a" stroke-width="1.1"/>
<line x1="530.40" y1="119.0" x2="530.40" y2="121.6" stroke="#1a1a1a" stroke-width="1.1"/>
<line x1="533.28" y1="119.0" x2="533.28" y2="121.6" stroke="#1a1a1a" stroke-width="1.1"/>
<line x1="535.87" y1="119.0" x2="535.87" y2="124.2" stroke="#1a1a1a" stroke-width="1.1"/>
<line x1="552.85" y1="119.0" x2="552.85" y2="121.6" stroke="#1a1a1a" stroke-width="1.1"/>
<line x1="562.79" y1="119.0" x2="562.79" y2="121.6" stroke="#1a1a1a" stroke-width="1.1"/>
<line x1="569.84" y1="119.0" x2="569.84" y2="121.6" stroke="#1a1a1a" stroke-width="1.1"/>
<line x1="575.31" y1="119.0" x2="575.31" y2="121.6" stroke="#1a1a1a" stroke-width="1.1"/>
<line x1="579.78" y1="119.0" x2="579.78" y2="121.6" stroke="#1a1a1a" stroke-width="1.1"/>
<line x1="583.56" y1="119.0" x2="583.56" y2="121.6" stroke="#1a1a1a" stroke-width="1.1"/>
<line x1="586.83" y1="119.0" x2="586.83" y2="121.6" stroke="#1a1a1a" stroke-width="1.1"/>
<line x1="589.72" y1="119.0" x2="589.72" y2="121.6" stroke="#1a1a1a" stroke-width="1.1"/>
<line x1="592.30" y1="119.0" x2="592.30" y2="124.2" stroke="#1a1a1a" stroke-width="1.1"/>
<line x1="418.0" y1="119.0" x2="592.9" y2="119.0" stroke="#1a1a1a" stroke-width="1.3"/>
<line x1="418.0" y1="219.00" x2="423.0" y2="219.00" stroke="#1a1a1a" stroke-width="1.1"/>
<text x="414.7" y="223.10" text-anchor="end" font-family="Liberation Sans" font-size="11">0</text>
<line x1="420.2" y1="212.33" x2="423.0" y2="212.33" stroke="#1a1a1a" stroke-width="1.1"/>
<line x1="420.2" y1="205.67" x2="423.0" y2="205.67" stroke="#1a1a1a" stroke-width="1.1"/>
<line x1="420.2" y1="199.00" x2="423.0" y2="199.00" stroke="#1a1a1a" stroke-width="1.1"/>
<line x1="420.2" y1="192.33" x2="423.0" y2="192.33" stroke="#1a1a1a" stroke-width="1.1"/>
<line x1="418.0" y1="185.67" x2="423.0" y2="185.67" stroke="#1a1a1a" stroke-width="1.1"/>
<text x="414.7" y="189.77" text-anchor="end" font-family="Liberation Sans" font-size="11">5</text>
<line x1="420.2" y1="179.00" x2="423.0" y2="179.00" stroke="#1a1a1a" stroke-width="1.1"/>
<line x1="420.2" y1="172.33" x2="423.0" y2="172.33" stroke="#1a1a1a" stroke-width="1.1"/>
<line x1="420.2" y1="165.67" x2="423.0" y2="165.67" stroke="#1a1a1a" stroke-width="1.1"/>
<line x1="420.2" y1="159.00" x2="423.0" y2="159.00" stroke="#1a1a1a" stroke-width="1.1"/>
<line x1="418.0" y1="152.33" x2="423.0" y2="152.33" stroke="#1a1a1a" stroke-width="1.1"/>
<text x="414.7" y="156.43" text-anchor="end" font-family="Liberation Sans" font-size="11">10</text>
<line x1="420.2" y1="145.67" x2="423.0" y2="145.67" stroke="#1a1a1a" stroke-width="1.1"/>
<line x1="420.2" y1="139.00" x2="423.0" y2="139.00" stroke="#1a1a1a" stroke-width="1.1"/>
<line x1="420.2" y1="132.33" x2="423.0" y2="132.33" stroke="#1a1a1a" stroke-width="1.1"/>
<line x1="420.2" y1="125.67" x2="423.0" y2="125.67" stroke="#1a1a1a" stroke-width="1.1"/>
<line x1="423.00" y1="219.0" x2="423.00" y2="224.2" stroke="#1a1a1a" stroke-width="1.1"/>
<line x1="439.99" y1="219.0" x2="439.99" y2="221.6" stroke="#1a1a1a" stroke-width="1.1"/>
<line x1="449.93" y1="219.0" x2="449.93" y2="221.6" stroke="#1a1a1a" stroke-width="1.1"/>
<line x1="456.98" y1="219.0" x2="456.98" y2="221.6" stroke="#1a1a1a" stroke-width="1.1"/>
<line x1="462.45" y1="219.0" x2="462.45" y2="221.6" stroke="#1a1a1a" stroke-width="1.1"/>
<line x1="466.91" y1="219.0" x2="466.91" y2="221.6" stroke="#1a1a1a" stroke-width="1.1"/>
<line x1="470.69" y1="219.0" x2="470.69" y2="221.6" stroke="#1a1a1a" stroke-width="1.1"/>
<line x1="473.96" y1="219.0" x2="473.96" y2="221.6" stroke="#1a1a1a" stroke-width="1.1"/>
<line x1="476.85" y1="219.0" x2="476.85" y2="221.6" stroke="#1a1a1a" stroke-width="1.1"/>
<line x1="479.43" y1="219.0" x2="479.43" y2="224.2" stroke="#1a1a1a" stroke-width="1.1"/>
<line x1="496.42" y1="219.0" x2="496.42" y2="221.6" stroke="#1a1a1a" stroke-width="1.1"/>
<line x1="506.36" y1="219.0" x2="506.36" y2="221.6" stroke="#1a1a1a" stroke-width="1.1"/>
<line x1="513.41" y1="219.0" x2="513.41" y2="221.6" stroke="#1a1a1a" stroke-width="1.1"/>
<line x1="518.88" y1="219.0" x2="518.88" y2="221.6" stroke="#1a1a1a" stroke-width="1.1"/>
<line x1="523.35" y1="219.0" x2="523.35" y2="221.6" stroke="#1a1a1a" stroke-width="1.1"/>
<line x1="527.13" y1="219.0" x2="527.13" y2="221.6" stroke="#1a1a1a" stroke-width="1.1"/>
<line x1="530.40" y1="219.0" x2="530.40" y2="221.6" stroke="#1a1a1a" stroke-width="1.1"/>
<line x1="533.28" y1="219.0" x2="533.28" y2="221.6" stroke="#1a1a1a" stroke-width="1.1"/>
<line x1="535.87" y1="219.0" x2="535.87" y2="224.2" stroke="#1a1a1a" stroke-width="1.1"/>
<line x1="552.85" y1="219.0" x2="552.85" y2="221.6" stroke="#1a1a1a" stroke-width="1.1"/>
<line x1="562.79" y1="219.0" x2="562.79" y2="221.6" stroke="#1a1a1a" stroke-width="1.1"/>
<line x1="569.84" y1="219.0" x2="569.84" y2="221.6" stroke="#1a1a1a" stroke-width="1.1"/>
<line x1="575.31" y1="219.0" x2="575.31" y2="221.6" stroke="#1a1a1a" stroke-width="1.1"/>
<line x1="579.78" y1="219.0" x2="579.78" y2="221.6" stroke="#1a1a1a" stroke-width="1.1"/>
<line x1="583.56" y1="219.0" x2="583.56" y2="221.6" stroke="#1a1a1a" stroke-width="1.1"/>
<line x1="586.83" y1="219.0" x2="586.83" y2="221.6" stroke="#1a1a1a" stroke-width="1.1"/>
<line x1="589.72" y1="219.0" x2="589.72" y2="221.6" stroke="#1a1a1a" stroke-width="1.1"/>
<line x1="592.30" y1="219.0" x2="592.30" y2="224.2" stroke="#1a1a1a" stroke-width="1.1"/>
<line x1="418.0" y1="219.0" x2="592.9" y2="219.0" stroke="#1a1a1a" stroke-width="1.3"/>
<line x1="418.0" y1="319.00" x2="423.0" y2="319.00" stroke="#1a1a1a" stroke-width="1.1"/>
<text x="414.7" y="323.10" text-anchor="end" font-family="Liberation Sans" font-size="11">0</text>
<line x1="420.2" y1="312.33" x2="423.0" y2="312.33" stroke="#1a1a1a" stroke-width="1.1"/>
<line x1="420.2" y1="305.67" x2="423.0" y2="305.67" stroke="#1a1a1a" stroke-width="1.1"/>
<line x1="420.2" y1="299.00" x2="423.0" y2="299.00" stroke="#1a1a1a" stroke-width="1.1"/>
<line x1="420.2" y1="292.33" x2="423.0" y2="292.33" stroke="#1a1a1a" stroke-width="1.1"/>
<line x1="418.0" y1="285.67" x2="423.0" y2="285.67" stroke="#1a1a1a" stroke-width="1.1"/>
<text x="414.7" y="289.77" text-anchor="end" font-family="Liberation Sans" font-size="11">5</text>
<line x1="420.2" y1="279.00" x2="423.0" y2="279.00" stroke="#1a1a1a" stroke-width="1.1"/>
<line x1="420.2" y1="272.33" x2="423.0" y2="272.33" stroke="#1a1a1a" stroke-width="1.1"/>
<line x1="420.2" y1="265.67" x2="423.0" y2="265.67" stroke="#1a1a1a" stroke-width="1.1"/>
<line x1="420.2" y1="259.00" x2="423.0" y2="259.00" stroke="#1a1a1a" stroke-width="1.1"/>
<line x1="418.0" y1="252.33" x2="423.0" y2="252.33" stroke="#1a1a1a" stroke-width="1.1"/>
<text x="414.7" y="256.43" text-anchor="end" font-family="Liberation Sans" font-size="11">10</text>
<line x1="420.2" y1="245.67" x2="423.0" y2="245.67" stroke="#1a1a1a" stroke-width="1.1"/>
<line x1="420.2" y1="239.00" x2="423.0" y2="239.00" stroke="#1a1a1a" stroke-width="1.1"/>
<line x1="420.2" y1="232.33" x2="423.0" y2="232.33" stroke="#1a1a1a" stroke-width="1.1"/>
<line x1="420.2" y1="225.67" x2="423.0" y2="225.67" stroke="#1a1a1a" stroke-width="1.1"/>
<line x1="423.00" y1="319.0" x2="423.00" y2="324.2" stroke="#1a1a1a" stroke-width="1.1"/>
<line x1="439.99" y1="319.0" x2="439.99" y2="321.6" stroke="#1a1a1a" stroke-width="1.1"/>
<line x1="449.93" y1="319.0" x2="449.93" y2="321.6" stroke="#1a1a1a" stroke-width="1.1"/>
<line x1="456.98" y1="319.0" x2="456.98" y2="321.6" stroke="#1a1a1a" stroke-width="1.1"/>
<line x1="462.45" y1="319.0" x2="462.45" y2="321.6" stroke="#1a1a1a" stroke-width="1.1"/>
<line x1="466.91" y1="319.0" x2="466.91" y2="321.6" stroke="#1a1a1a" stroke-width="1.1"/>
<line x1="470.69" y1="319.0" x2="470.69" y2="321.6" stroke="#1a1a1a" stroke-width="1.1"/>
<line x1="473.96" y1="319.0" x2="473.96" y2="321.6" stroke="#1a1a1a" stroke-width="1.1"/>
<line x1="476.85" y1="319.0" x2="476.85" y2="321.6" stroke="#1a1a1a" stroke-width="1.1"/>
<line x1="479.43" y1="319.0" x2="479.43" y2="324.2" stroke="#1a1a1a" stroke-width="1.1"/>
<line x1="496.42" y1="319.0" x2="496.42" y2="321.6" stroke="#1a1a1a" stroke-width="1.1"/>
<line x1="506.36" y1="319.0" x2="506.36" y2="321.6" stroke="#1a1a1a" stroke-width="1.1"/>
<line x1="513.41" y1="319.0" x2="513.41" y2="321.6" stroke="#1a1a1a" stroke-width="1.1"/>
<line x1="518.88" y1="319.0" x2="518.88" y2="321.6" stroke="#1a1a1a" stroke-width="1.1"/>
<line x1="523.35" y1="319.0" x2="523.35" y2="321.6" stroke="#1a1a1a" stroke-width="1.1"/>
<line x1="527.13" y1="319.0" x2="527.13" y2="321.6" stroke="#1a1a1a" stroke-width="1.1"/>
<line x1="530.40" y1="319.0" x2="530.40" y2="321.6" stroke="#1a1a1a" stroke-width="1.1"/>
<line x1="533.28" y1="319.0" x2="533.28" y2="321.6" stroke="#1a1a1a" stroke-width="1.1"/>
<line x1="535.87" y1="319.0" x2="535.87" y2="324.2" stroke="#1a1a1a" stroke-width="1.1"/>
<line x1="552.85" y1="319.0" x2="552.85" y2="321.6" stroke="#1a1a1a" stroke-width="1.1"/>
<line x1="562.79" y1="319.0" x2="562.79" y2="321.6" stroke="#1a1a1a" stroke-width="1.1"/>
<line x1="569.84" y1="319.0" x2="569.84" y2="321.6" stroke="#1a1a1a" stroke-width="1.1"/>
<line x1="575.31" y1="319.0" x2="575.31" y2="321.6" stroke="#1a1a1a" stroke-width="1.1"/>
<line x1="579.78" y1="319.0" x2="579.78" y2="321.6" stroke="#1a1a1a" stroke-width="1.1"/>
<line x1="583.56" y1="319.0" x2="583.56" y2="321.6" stroke="#1a1a1a" stroke-width="1.1"/>
<line x1="586.83" y1="319.0" x2="586.83" y2="321.6" stroke="#1a1a1a" stroke-width="1.1"/>
<line x1="589.72" y1="319.0" x2="589.72" y2="321.6" stroke="#1a1a1a" stroke-width="1.1"/>
<line x1="592.30" y1="319.0" x2="592.30" y2="324.2" stroke="#1a1a1a" stroke-width="1.1"/>
<line x1="418.0" y1="319.0" x2="592.9" y2="319.0" stroke="#1a1a1a" stroke-width="1.3"/>
<line x1="418.0" y1="419.60" x2="423.0" y2="419.60" stroke="#1a1a1a" stroke-width="1.1"/>
<text x="414.7" y="423.70" text-anchor="end" font-family="Liberation Sans" font-size="11">0</text>
<line x1="420.2" y1="412.89" x2="423.0" y2="412.89" stroke="#1a1a1a" stroke-width="1.1"/>
<line x1="420.2" y1="406.19" x2="423.0" y2="406.19" stroke="#1a1a1a" stroke-width="1.1"/>
<line x1="420.2" y1="399.48" x2="423.0" y2="399.48" stroke="#1a1a1a" stroke-width="1.1"/>
<line x1="420.2" y1="392.77" x2="423.0" y2="392.77" stroke="#1a1a1a" stroke-width="1.1"/>
<line x1="418.0" y1="386.07" x2="423.0" y2="386.07" stroke="#1a1a1a" stroke-width="1.1"/>
<text x="414.7" y="390.17" text-anchor="end" font-family="Liberation Sans" font-size="11">5</text>
<line x1="420.2" y1="379.36" x2="423.0" y2="379.36" stroke="#1a1a1a" stroke-width="1.1"/>
<line x1="420.2" y1="372.65" x2="423.0" y2="372.65" stroke="#1a1a1a" stroke-width="1.1"/>
<line x1="420.2" y1="365.95" x2="423.0" y2="365.95" stroke="#1a1a1a" stroke-width="1.1"/>
<line x1="420.2" y1="359.24" x2="423.0" y2="359.24" stroke="#1a1a1a" stroke-width="1.1"/>
<line x1="418.0" y1="352.53" x2="423.0" y2="352.53" stroke="#1a1a1a" stroke-width="1.1"/>
<text x="414.7" y="356.63" text-anchor="end" font-family="Liberation Sans" font-size="11">10</text>
<line x1="420.2" y1="345.83" x2="423.0" y2="345.83" stroke="#1a1a1a" stroke-width="1.1"/>
<line x1="420.2" y1="339.12" x2="423.0" y2="339.12" stroke="#1a1a1a" stroke-width="1.1"/>
<line x1="420.2" y1="332.41" x2="423.0" y2="332.41" stroke="#1a1a1a" stroke-width="1.1"/>
<line x1="420.2" y1="325.71" x2="423.0" y2="325.71" stroke="#1a1a1a" stroke-width="1.1"/>
<line x1="423.00" y1="419.6" x2="423.00" y2="424.8" stroke="#1a1a1a" stroke-width="1.1"/>
<line x1="439.99" y1="419.6" x2="439.99" y2="422.20000000000005" stroke="#1a1a1a" stroke-width="1.1"/>
<line x1="449.93" y1="419.6" x2="449.93" y2="422.20000000000005" stroke="#1a1a1a" stroke-width="1.1"/>
<line x1="456.98" y1="419.6" x2="456.98" y2="422.20000000000005" stroke="#1a1a1a" stroke-width="1.1"/>
<line x1="462.45" y1="419.6" x2="462.45" y2="422.20000000000005" stroke="#1a1a1a" stroke-width="1.1"/>
<line x1="466.91" y1="419.6" x2="466.91" y2="422.20000000000005" stroke="#1a1a1a" stroke-width="1.1"/>
<line x1="470.69" y1="419.6" x2="470.69" y2="422.20000000000005" stroke="#1a1a1a" stroke-width="1.1"/>
<line x1="473.96" y1="419.6" x2="473.96" y2="422.20000000000005" stroke="#1a1a1a" stroke-width="1.1"/>
<line x1="476.85" y1="419.6" x2="476.85" y2="422.20000000000005" stroke="#1a1a1a" stroke-width="1.1"/>
<line x1="479.43" y1="419.6" x2="479.43" y2="424.8" stroke="#1a1a1a" stroke-width="1.1"/>
<line x1="496.42" y1="419.6" x2="496.42" y2="422.20000000000005" stroke="#1a1a1a" stroke-width="1.1"/>
<line x1="506.36" y1="419.6" x2="506.36" y2="422.20000000000005" stroke="#1a1a1a" stroke-width="1.1"/>
<line x1="513.41" y1="419.6" x2="513.41" y2="422.20000000000005" stroke="#1a1a1a" stroke-width="1.1"/>
<line x1="518.88" y1="419.6" x2="518.88" y2="422.20000000000005" stroke="#1a1a1a" stroke-width="1.1"/>
<line x1="523.35" y1="419.6" x2="523.35" y2="422.20000000000005" stroke="#1a1a1a" stroke-width="1.1"/>
<line x1="527.13" y1="419.6" x2="527.13" y2="422.20000000000005" stroke="#1a1a1a" stroke-width="1.1"/>
<line x1="530.40" y1="419.6" x2="530.40" y2="422.20000000000005" stroke="#1a1a1a" stroke-width="1.1"/>
<line x1="533.28" y1="419.6" x2="533.28" y2="422.20000000000005" stroke="#1a1a1a" stroke-width="1.1"/>
<line x1="535.87" y1="419.6" x2="535.87" y2="424.8" stroke="#1a1a1a" stroke-width="1.1"/>
<line x1="552.85" y1="419.6" x2="552.85" y2="422.20000000000005" stroke="#1a1a1a" stroke-width="1.1"/>
<line x1="562.79" y1="419.6" x2="562.79" y2="422.20000000000005" stroke="#1a1a1a" stroke-width="1.1"/>
<line x1="569.84" y1="419.6" x2="569.84" y2="422.20000000000005" stroke="#1a1a1a" stroke-width="1.1"/>
<line x1="575.31" y1="419.6" x2="575.31" y2="422.20000000000005" stroke="#1a1a1a" stroke-width="1.1"/>
<line x1="579.78" y1="419.6" x2="579.78" y2="422.20000000000005" stroke="#1a1a1a" stroke-width="1.1"/>
<line x1="583.56" y1="419.6" x2="583.56" y2="422.20000000000005" stroke="#1a1a1a" stroke-width="1.1"/>
<line x1="586.83" y1="419.6" x2="586.83" y2="422.20000000000005" stroke="#1a1a1a" stroke-width="1.1"/>
<line x1="589.72" y1="419.6" x2="589.72" y2="422.20000000000005" stroke="#1a1a1a" stroke-width="1.1"/>
<line x1="592.30" y1="419.6" x2="592.30" y2="424.8" stroke="#1a1a1a" stroke-width="1.1"/>
<line x1="418.0" y1="419.6" x2="592.9" y2="419.6" stroke="#1a1a1a" stroke-width="1.3"/>
<line x1="420.0" y1="15.5" x2="592.9" y2="15.5" stroke="#1a1a1a" stroke-width="1.3"/>
<line x1="423.0" y1="14.9" x2="423.0" y2="424.7" stroke="#1a1a1a" stroke-width="1.3"/>
<line x1="592.3" y1="14.9" x2="592.3" y2="424.7" stroke="#1a1a1a" stroke-width="1.3"/>
<text x="429.6" y="33" font-family="Liberation Serif" font-size="16.3" font-weight="bold" textLength="55.6" lengthAdjust="spacingAndGlyphs" >1 probe</text>
<text x="426.6" y="137.7" font-family="Liberation Serif" font-size="16.3" font-weight="bold" textLength="60.3" lengthAdjust="spacingAndGlyphs" >2 probes</text>
<text x="426.5" y="238" font-family="Liberation Serif" font-size="16.3" font-weight="bold" textLength="61" lengthAdjust="spacingAndGlyphs" >3 probes</text>
<text x="426.5" y="338.4" font-family="Liberation Serif" font-size="16.3" font-weight="bold" textLength="61" lengthAdjust="spacingAndGlyphs" >4 probes</text>
<text x="492.8" y="78.7" font-family="Liberation Serif" font-size="16.5" textLength="85" lengthAdjust="spacingAndGlyphs" >proper range</text>
<text transform="translate(396.6,72.2) rotate(-90)" text-anchor="middle" font-family="Liberation Serif" font-weight="bold" font-size="14.3"># Sub-Regions</text>
<text transform="translate(396.6,172.9) rotate(-90)" text-anchor="middle" font-family="Liberation Serif" font-weight="bold" font-size="14.3"># Sub-Regions</text>
<text transform="translate(396.6,272.9) rotate(-90)" text-anchor="middle" font-family="Liberation Serif" font-weight="bold" font-size="14.3"># Sub-Regions</text>
<text transform="translate(396.6,373.6) rotate(-90)" text-anchor="middle" font-family="Liberation Serif" font-weight="bold" font-size="14.3"># Sub-Regions</text>
<text x="423.7" y="437.8" text-anchor="middle" font-family="Liberation Sans" font-size="11">10<tspan dy="-2.7" font-size="8.3">-3</tspan></text>
<text x="480.0" y="437.8" text-anchor="middle" font-family="Liberation Sans" font-size="11">10<tspan dy="-2.7" font-size="8.3">-2</tspan></text>
<text x="536.0" y="437.8" text-anchor="middle" font-family="Liberation Sans" font-size="11">10<tspan dy="-2.7" font-size="8.3">-1</tspan></text>
<text x="592.8" y="437.8" text-anchor="middle" font-family="Liberation Sans" font-size="11">10<tspan dy="-2.7" font-size="8.3">0</tspan></text>
<text x="451.5" y="449.3" font-family="Liberation Serif" font-size="13.9" font-weight="bold" textLength="100" lengthAdjust="spacingAndGlyphs" >Hyperparameter</text>
<line x1="480" y1="87.1" x2="590" y2="87.1" stroke="#111" stroke-width="1.3"/>
<path d="M477.6,87.1 L488.6,82.6 L485.40000000000003,87.1 L488.6,91.6 Z" fill="#000"/>
<path d="M592.5,87.1 L581.5,82.6 L584.7,87.1 L581.5,91.6 Z" fill="#000"/>
<line x1="498" y1="189.6" x2="535" y2="189.6" stroke="#111" stroke-width="1.3"/>
<path d="M495.6,189.6 L506.6,185.1 L503.40000000000003,189.6 L506.6,194.1 Z" fill="#000"/>
<path d="M537.9,189.6 L526.9,185.1 L530.1,189.6 L526.9,194.1 Z" fill="#000"/>
<line x1="493.2" y1="279.5" x2="545.6" y2="279.5" stroke="#111" stroke-width="1.3"/>
<path d="M510.6,279.5 L499.6,275.0 L502.8,279.5 L499.6,284.0 Z" fill="#000"/>
<path d="M526.6,279.5 L537.6,275.0 L534.4,279.5 L537.6,284.0 Z" fill="#000"/>
<line x1="489.5" y1="366.8" x2="539.8" y2="366.8" stroke="#111" stroke-width="1.3"/>
<path d="M505.9,366.8 L494.9,362.3 L498.09999999999997,366.8 L494.9,371.3 Z" fill="#000"/>
<path d="M521.1,366.8 L532.1,362.3 L528.9,366.8 L532.1,371.3 Z" fill="#000"/>
</svg>
</body></html>
